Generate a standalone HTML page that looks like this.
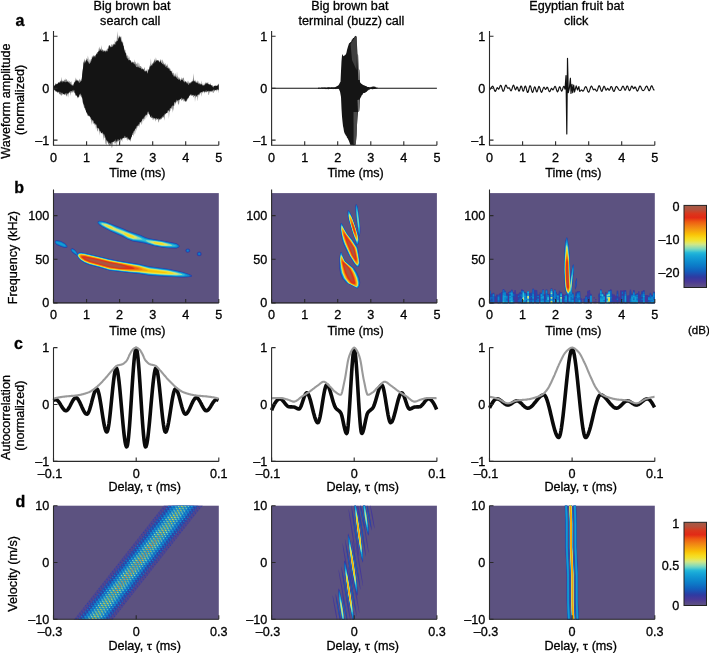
<!DOCTYPE html>
<html><head><meta charset="utf-8"><title>Bat echolocation signals</title>
<style>html,body{margin:0;padding:0;background:#fff;overflow:hidden}svg{display:block}
text{font-family:"Liberation Sans",Arial,Helvetica,sans-serif;fill:#000;stroke:#000;stroke-width:.3px}</style></head>
<body><svg style="filter:blur(0.3px)" width="709" height="653" viewBox="0 0 709 653">
<rect width="709" height="653" fill="#fff"/>
<text x="93.5" y="9.7" font-size="12.62" text-anchor="start">Big brown bat</text>
<text x="100.1" y="25.3" font-size="12.62" text-anchor="start">search call</text>
<text x="311.3" y="9.7" font-size="12.62" text-anchor="start">Big brown bat</text>
<text x="298.6" y="25.3" font-size="12.62" text-anchor="start">terminal (buzz) call</text>
<text x="529.3" y="9.7" font-size="12.62" text-anchor="start">Egyptian fruit bat</text>
<text x="563.9" y="25.3" font-size="12.62" text-anchor="start">click</text>
<text x="15.4" y="25.6" font-size="16" text-anchor="start" font-weight="bold">a</text>
<text x="14.3" y="193" font-size="16" text-anchor="start" font-weight="bold">b</text>
<text x="14" y="348.5" font-size="16" text-anchor="start" font-weight="bold">c</text>
<text x="15.4" y="506.6" font-size="16" text-anchor="start" font-weight="bold">d</text>
<text transform="translate(9.9,158.7) rotate(-90)" font-size="12.62">Waveform amplitude</text>
<text transform="translate(23.9,134.9) rotate(-90)" font-size="12.62">(normalized)</text>
<text transform="translate(16.8,304.2) rotate(-90)" font-size="12.62">Frequency (kHz)</text>
<text transform="translate(9.7,459.9) rotate(-90)" font-size="12.62">Autocorrelation</text>
<text transform="translate(23.9,450.7) rotate(-90)" font-size="12.62">(normalized)</text>
<text transform="translate(17,611.7) rotate(-90)" font-size="12.62">Velocity (m/s)</text>
<path fill="#8a8a8a" d="M53.7,85.6 54.2,85.8 54.6,85.8 55.1,84.7 55.5,82.8 56.0,84.0 56.4,84.3 56.9,83.2 57.3,83.4 57.8,84.2 58.2,81.8 58.7,83.2 59.1,82.0 59.6,81.6 60.0,82.4 60.5,81.2 60.9,81.9 61.4,76.8 61.8,80.2 62.3,81.6 62.7,80.3 63.2,81.2 63.6,81.2 64.1,78.9 64.5,80.3 65.0,80.0 65.4,80.1 65.9,78.2 66.3,79.9 66.8,78.9 67.2,80.4 67.7,81.2 68.1,82.5 68.6,79.9 69.0,82.4 69.5,80.9 69.9,81.2 70.4,82.3 70.8,82.4 71.3,81.1 71.7,84.3 72.2,84.0 72.6,85.8 73.1,83.9 73.5,84.7 74.0,81.9 74.4,83.0 74.9,80.4 75.3,77.3 75.8,80.4 76.2,80.4 76.7,78.6 77.1,79.4 77.6,81.2 78.0,81.3 78.5,80.0 78.9,82.0 79.4,78.6 79.8,79.6 80.3,81.1 80.7,79.8 81.2,79.4 81.6,79.1 82.1,75.9 82.5,71.1 83.0,68.3 83.4,62.4 83.9,61.1 84.3,58.5 84.8,60.5 85.2,61.4 85.7,60.2 86.1,59.7 86.6,57.7 87.0,59.1 87.5,59.2 87.9,55.4 88.4,58.4 88.8,62.4 89.3,62.8 89.7,58.7 90.2,61.6 90.6,59.8 91.1,59.0 91.5,59.1 92.0,56.1 92.4,55.7 92.9,57.2 93.3,55.1 93.8,55.5 94.2,56.5 94.7,55.4 95.1,55.8 95.6,55.8 96.0,54.8 96.5,52.7 96.9,53.3 97.4,51.7 97.8,52.4 98.3,51.9 98.7,49.2 99.2,46.5 99.6,48.4 100.1,49.2 100.5,48.5 101.0,49.0 101.4,44.9 101.9,49.7 102.3,49.8 102.8,49.0 103.2,50.5 103.7,50.0 104.1,51.9 104.6,51.5 105.0,51.4 105.5,50.7 105.9,49.9 106.4,50.7 106.8,49.4 107.3,48.3 107.7,49.2 108.2,46.9 108.6,45.6 109.1,46.0 109.5,45.0 110.0,45.0 110.4,46.7 110.9,45.9 111.3,45.2 111.8,43.8 112.2,44.6 112.7,45.5 113.1,43.0 113.6,46.0 114.0,43.5 114.5,44.4 114.9,39.7 115.4,41.9 115.8,42.0 116.3,40.1 116.7,41.6 117.2,30.9 117.6,35.1 118.1,39.3 118.5,38.0 119.0,35.1 119.4,36.0 119.9,36.4 120.3,36.8 120.8,38.0 121.2,36.0 121.7,40.7 122.1,40.5 122.6,42.4 123.0,41.8 123.5,45.9 123.9,47.3 124.4,48.9 124.8,50.3 125.3,49.7 125.7,53.4 126.2,53.1 126.6,56.2 127.1,55.6 127.5,54.9 128.0,58.1 128.4,58.6 128.9,55.7 129.3,57.3 129.8,60.5 130.2,59.9 130.7,60.6 131.1,61.3 131.6,62.5 132.0,60.4 132.5,61.9 132.9,62.4 133.4,62.1 133.8,62.6 134.3,59.2 134.7,62.7 135.2,61.4 135.6,62.2 136.1,64.4 136.5,63.3 137.0,64.1 137.4,62.0 137.9,65.7 138.3,66.0 138.8,62.6 139.2,63.8 139.7,66.6 140.1,66.3 140.6,66.1 141.0,65.9 141.5,68.3 141.9,66.6 142.4,68.9 142.8,68.3 143.3,68.9 143.7,69.7 144.2,68.0 144.6,66.9 145.1,70.0 145.5,71.8 146.0,69.7 146.4,71.6 146.9,69.1 147.3,72.7 147.8,68.8 148.2,68.9 148.7,69.8 149.1,68.5 149.6,65.7 150.0,65.2 150.5,63.3 150.9,58.3 151.4,65.3 151.8,64.4 152.3,63.5 152.7,63.4 153.2,61.8 153.6,61.9 154.1,60.4 154.5,58.4 155.0,60.5 155.4,60.2 155.9,57.2 156.3,59.3 156.8,60.6 157.2,60.4 157.7,61.0 158.1,61.4 158.6,60.2 159.0,60.2 159.5,62.0 159.9,61.1 160.4,59.6 160.8,59.4 161.3,59.9 161.7,63.2 162.2,61.6 162.6,59.3 163.1,61.2 163.5,64.2 164.0,61.6 164.4,65.7 164.9,65.3 165.3,64.7 165.8,62.7 166.2,64.9 166.7,66.2 167.1,65.9 167.6,63.4 168.0,66.6 168.5,67.2 168.9,68.2 169.4,67.4 169.8,69.3 170.3,68.6 170.7,71.0 171.2,70.9 171.6,71.1 172.1,70.0 172.5,73.7 173.0,73.4 173.4,73.4 173.9,72.2 174.3,74.4 174.8,75.7 175.2,75.4 175.7,72.7 176.1,75.0 176.6,77.9 177.0,71.3 177.5,77.2 177.9,75.8 178.4,78.5 178.8,77.2 179.3,77.5 179.7,78.6 180.2,80.0 180.6,79.1 181.1,79.8 181.5,77.1 182.0,79.2 182.4,77.7 182.9,79.0 183.3,77.5 183.8,77.7 184.2,80.2 184.7,81.1 185.1,81.9 185.6,80.9 186.0,81.3 186.5,82.1 186.9,82.4 187.4,80.6 187.8,83.3 188.3,80.5 188.7,82.5 189.2,84.1 189.6,83.0 190.1,82.6 190.5,83.4 191.0,82.4 191.4,81.8 191.9,81.8 192.3,82.4 192.8,79.7 193.2,78.2 193.7,73.3 194.1,80.3 194.6,81.5 195.0,79.6 195.5,80.9 195.9,80.8 196.4,82.4 196.8,81.4 197.3,81.9 197.7,80.4 198.2,80.9 198.6,82.8 199.1,82.9 199.5,82.4 200.0,84.1 200.4,83.6 200.9,83.6 201.3,80.4 201.8,84.7 202.2,85.0 202.7,83.0 203.1,85.5 203.6,84.9 204.0,83.0 204.5,84.9 204.9,83.6 205.4,83.0 205.8,82.0 206.3,83.6 206.7,82.2 207.2,82.9 207.6,82.4 208.1,82.1 208.5,83.7 209.0,85.0 209.4,84.4 209.9,84.7 210.3,82.6 210.8,85.6 211.2,85.2 211.7,85.5 212.1,85.3 212.6,85.1 213.0,86.3 213.5,85.8 213.9,86.5 214.4,85.9 214.8,85.7 215.3,85.9 215.7,84.9 216.2,85.9 216.6,85.5 217.1,84.5 217.5,84.9 218.0,85.6 218.4,83.6 218.9,83.9 218.9,93.6 218.4,90.5 218.0,90.0 217.5,90.4 217.1,90.1 216.6,90.3 216.2,91.8 215.7,90.1 215.3,90.0 214.8,92.1 214.4,90.7 213.9,91.0 213.5,93.1 213.0,93.1 212.6,91.9 212.1,91.1 211.7,91.8 211.2,92.2 210.8,91.1 210.3,92.0 209.9,92.5 209.4,91.9 209.0,94.7 208.5,94.9 208.1,91.8 207.6,91.3 207.2,91.8 206.7,92.7 206.3,92.1 205.8,92.0 205.4,91.2 204.9,94.1 204.5,91.3 204.0,92.9 203.6,91.2 203.1,91.0 202.7,92.6 202.2,93.5 201.8,91.2 201.3,96.7 200.9,94.0 200.4,92.6 200.0,93.8 199.5,95.8 199.1,93.9 198.6,94.6 198.2,96.2 197.7,101.4 197.3,96.4 196.8,96.7 196.4,96.0 195.9,97.8 195.5,96.9 195.0,102.0 194.6,95.6 194.1,96.0 193.7,97.5 193.2,96.9 192.8,95.2 192.3,95.9 191.9,96.1 191.4,95.8 191.0,95.5 190.5,94.9 190.1,95.8 189.6,95.9 189.2,96.6 188.7,97.9 188.3,98.4 187.8,98.3 187.4,100.1 186.9,100.5 186.5,101.9 186.0,100.8 185.6,101.7 185.1,99.5 184.7,100.3 184.2,99.3 183.8,99.6 183.3,101.9 182.9,99.8 182.4,99.7 182.0,100.5 181.5,100.8 181.1,100.0 180.6,98.9 180.2,99.1 179.7,99.8 179.3,102.1 178.8,105.4 178.4,103.7 177.9,103.8 177.5,99.7 177.0,100.7 176.6,102.4 176.1,102.1 175.7,105.0 175.2,103.0 174.8,102.3 174.3,106.2 173.9,105.2 173.4,110.9 173.0,108.4 172.5,112.8 172.1,107.1 171.6,106.9 171.2,108.7 170.7,108.7 170.3,110.7 169.8,111.5 169.4,111.9 168.9,119.0 168.5,111.0 168.0,110.5 167.6,113.6 167.1,111.7 166.7,113.0 166.2,113.4 165.8,114.5 165.3,114.3 164.9,114.4 164.4,120.7 164.0,118.1 163.5,116.7 163.1,116.5 162.6,118.0 162.2,118.0 161.7,117.2 161.3,118.4 160.8,118.3 160.4,117.9 159.9,118.9 159.5,118.4 159.0,121.7 158.6,122.7 158.1,120.4 157.7,118.0 157.2,118.8 156.8,119.9 156.3,119.5 155.9,119.2 155.4,121.8 155.0,119.7 154.5,118.7 154.1,117.8 153.6,120.4 153.2,118.8 152.7,120.2 152.3,116.9 151.8,118.3 151.4,118.1 150.9,117.3 150.5,117.8 150.0,115.5 149.6,114.9 149.1,113.6 148.7,114.0 148.2,113.5 147.8,113.8 147.3,115.6 146.9,118.3 146.4,115.1 146.0,115.0 145.5,116.5 145.1,119.4 144.6,118.0 144.2,119.9 143.7,121.4 143.3,118.6 142.8,119.5 142.4,120.5 141.9,125.1 141.5,123.7 141.0,120.6 140.6,121.9 140.1,122.9 139.7,128.0 139.2,123.0 138.8,126.6 138.3,125.6 137.9,125.8 137.4,127.3 137.0,128.5 136.5,130.9 136.1,126.1 135.6,128.2 135.2,134.2 134.7,128.9 134.3,134.8 133.8,132.3 133.4,136.4 132.9,134.8 132.5,135.1 132.0,134.7 131.6,136.5 131.1,138.6 130.7,142.0 130.2,140.5 129.8,140.4 129.3,139.9 128.9,139.2 128.4,139.9 128.0,139.3 127.5,139.3 127.1,141.3 126.6,138.0 126.2,138.1 125.7,137.9 125.3,137.3 124.8,138.3 124.4,137.9 123.9,139.1 123.5,137.5 123.0,138.2 122.6,137.8 122.1,142.2 121.7,139.3 121.2,139.0 120.8,140.1 120.3,142.1 119.9,143.2 119.4,140.2 119.0,141.1 118.5,141.6 118.1,141.0 117.6,141.6 117.2,142.4 116.7,146.7 116.3,141.5 115.8,143.6 115.4,143.7 114.9,140.5 114.5,143.0 114.0,144.1 113.6,140.9 113.1,142.3 112.7,143.9 112.2,147.3 111.8,148.2 111.3,144.9 110.9,144.2 110.4,145.6 110.0,146.2 109.5,145.5 109.1,145.2 108.6,144.5 108.2,143.3 107.7,143.0 107.3,141.0 106.8,140.9 106.4,145.3 105.9,144.2 105.5,143.5 105.0,138.1 104.6,138.0 104.1,135.7 103.7,140.8 103.2,135.7 102.8,134.4 102.3,133.3 101.9,133.6 101.4,132.7 101.0,133.6 100.5,131.9 100.1,130.8 99.6,131.8 99.2,135.7 98.7,128.1 98.3,128.6 97.8,131.3 97.4,131.4 96.9,128.6 96.5,126.5 96.0,129.9 95.6,125.0 95.1,125.0 94.7,125.6 94.2,123.1 93.8,123.2 93.3,124.2 92.9,121.4 92.4,120.7 92.0,125.1 91.5,122.7 91.1,120.4 90.6,119.3 90.2,117.3 89.7,117.0 89.3,115.7 88.8,115.6 88.4,116.4 87.9,115.6 87.5,116.0 87.0,113.3 86.6,113.4 86.1,110.9 85.7,109.5 85.2,109.9 84.8,107.9 84.3,108.6 83.9,106.8 83.4,104.9 83.0,103.3 82.5,102.0 82.1,98.1 81.6,96.7 81.2,98.1 80.7,95.6 80.3,95.7 79.8,94.7 79.4,96.3 78.9,97.6 78.5,96.4 78.0,98.2 77.6,98.3 77.1,96.0 76.7,94.6 76.2,96.5 75.8,95.2 75.3,95.9 74.9,93.0 74.4,93.4 74.0,91.4 73.5,91.5 73.1,92.8 72.6,92.3 72.2,92.3 71.7,92.8 71.3,91.9 70.8,93.0 70.4,96.1 69.9,91.5 69.5,92.4 69.0,92.8 68.6,93.6 68.1,97.4 67.7,95.6 67.2,93.6 66.8,96.0 66.3,96.5 65.9,95.3 65.4,93.7 65.0,95.3 64.5,94.8 64.1,93.6 63.6,94.5 63.2,93.2 62.7,94.5 62.3,94.4 61.8,94.9 61.4,95.8 60.9,95.4 60.5,94.2 60.0,94.7 59.6,93.9 59.1,94.1 58.7,92.5 58.2,91.9 57.8,93.3 57.3,91.2 56.9,91.4 56.4,91.1 56.0,90.9 55.5,90.7 55.1,91.7 54.6,90.3 54.2,90.3 53.7,89.6Z"/>
<path fill="#141414" d="M53.7,87.2 54.2,85.9 54.7,85.4 55.2,84.0 55.7,84.9 56.2,84.4 56.7,84.0 57.2,84.0 57.7,83.8 58.2,82.7 58.7,82.4 59.2,82.4 59.7,82.9 60.2,82.5 60.7,80.8 61.2,80.7 61.7,82.1 62.2,82.8 62.7,81.5 63.2,80.9 63.7,82.3 64.2,81.2 64.7,82.0 65.2,82.6 65.7,81.8 66.2,81.4 66.7,82.0 67.2,81.3 67.7,82.0 68.2,82.1 68.7,82.8 69.2,83.0 69.7,83.5 70.2,83.8 70.7,84.4 71.2,84.7 71.7,85.2 72.2,86.0 72.7,85.0 73.2,86.1 73.7,84.4 74.2,82.8 74.7,82.3 75.2,81.5 75.7,81.3 76.2,79.8 76.7,81.1 77.2,81.2 77.7,80.0 78.2,80.7 78.7,82.3 79.2,82.7 79.7,82.8 80.2,82.0 80.7,81.5 81.2,80.9 81.7,80.6 82.2,74.5 82.7,70.6 83.2,66.5 83.7,62.0 84.2,63.8 84.7,61.6 85.2,61.6 85.7,62.9 86.2,60.0 86.7,59.7 87.2,62.0 87.7,60.6 88.2,61.7 88.7,63.2 89.2,63.8 89.7,63.9 90.2,62.7 90.7,62.4 91.2,61.1 91.7,59.8 92.2,57.8 92.7,57.4 93.2,56.0 93.7,57.8 94.2,55.4 94.7,57.2 95.2,57.6 95.7,54.9 96.2,54.6 96.7,54.0 97.2,54.3 97.7,52.2 98.2,52.0 98.7,50.9 99.2,50.4 99.7,51.1 100.2,49.4 100.7,50.4 101.2,50.6 101.7,51.3 102.2,49.7 102.7,51.7 103.2,51.3 103.7,51.8 104.2,51.4 104.7,50.2 105.2,51.1 105.7,52.5 106.2,51.6 106.7,50.7 107.2,51.4 107.7,50.9 108.2,48.3 108.7,49.0 109.2,45.6 109.7,45.4 110.2,47.7 110.7,46.6 111.2,47.2 111.7,47.0 112.2,46.4 112.7,46.7 113.2,45.8 113.7,43.9 114.2,44.8 114.7,44.3 115.2,45.1 115.7,42.2 116.2,42.5 116.7,41.3 117.2,40.7 117.7,41.3 118.2,39.4 118.7,37.8 119.2,37.5 119.7,37.1 120.2,36.5 120.7,38.4 121.2,41.2 121.7,41.9 122.2,42.5 122.7,43.6 123.2,45.6 123.7,46.3 124.2,50.0 124.7,51.2 125.2,52.6 125.7,53.0 126.2,55.0 126.7,57.5 127.2,58.6 127.7,58.5 128.2,59.7 128.7,60.5 129.2,59.7 129.7,60.3 130.2,60.5 130.7,60.6 131.2,62.5 131.7,62.7 132.2,62.9 132.7,62.1 133.2,62.6 133.7,63.7 134.2,63.8 134.7,64.6 135.2,64.2 135.7,65.7 136.2,66.9 136.7,67.1 137.2,67.4 137.7,66.5 138.2,67.6 138.7,66.9 139.2,68.2 139.7,67.5 140.2,67.7 140.7,67.9 141.2,69.2 141.7,69.2 142.2,69.4 142.7,68.6 143.2,70.0 143.7,69.0 144.2,71.7 144.7,70.8 145.2,71.4 145.7,71.6 146.2,70.7 146.7,71.3 147.2,72.8 147.7,73.8 148.2,70.7 148.7,70.0 149.2,69.5 149.7,67.2 150.2,66.1 150.7,66.4 151.2,66.0 151.7,65.0 152.2,65.8 152.7,63.7 153.2,63.3 153.7,63.6 154.2,63.3 154.7,60.6 155.2,61.5 155.7,62.6 156.2,60.5 156.7,60.8 157.2,60.4 157.7,60.2 158.2,60.3 158.7,61.3 159.2,62.1 159.7,62.5 160.2,61.8 160.7,60.7 161.2,62.8 161.7,63.0 162.2,64.1 162.7,64.2 163.2,63.3 163.7,65.4 164.2,63.8 164.7,65.2 165.2,66.4 165.7,66.7 166.2,68.0 166.7,65.2 167.2,67.7 167.7,68.3 168.2,67.9 168.7,69.0 169.2,68.4 169.7,70.5 170.2,71.1 170.7,70.5 171.2,71.5 171.7,72.6 172.2,72.9 172.7,74.9 173.2,74.9 173.7,76.4 174.2,76.7 174.7,76.3 175.2,76.6 175.7,76.5 176.2,77.2 176.7,77.7 177.2,79.1 177.7,78.6 178.2,79.5 178.7,79.7 179.2,79.3 179.7,79.6 180.2,81.0 180.7,81.2 181.2,79.4 181.7,80.0 182.2,79.9 182.7,80.1 183.2,81.6 183.7,81.2 184.2,82.0 184.7,82.7 185.2,81.3 185.7,81.8 186.2,82.3 186.7,83.4 187.2,82.9 187.7,83.8 188.2,84.5 188.7,84.9 189.2,84.1 189.7,82.8 190.2,82.0 190.7,83.7 191.2,82.9 191.7,81.5 192.2,81.6 192.7,81.4 193.2,80.1 193.7,81.6 194.2,81.0 194.7,81.6 195.2,82.6 195.7,82.1 196.2,82.8 196.7,82.9 197.2,82.8 197.7,83.0 198.2,84.6 198.7,83.3 199.2,84.8 199.7,83.4 200.2,84.6 200.7,84.6 201.2,84.4 201.7,83.7 202.2,86.0 202.7,84.9 203.2,85.3 203.7,85.8 204.2,85.4 204.7,85.1 205.2,84.5 205.7,83.5 206.2,84.2 206.7,82.9 207.2,83.3 207.7,83.8 208.2,84.4 208.7,84.1 209.2,84.3 209.7,84.7 210.2,84.3 210.7,85.1 211.2,85.3 211.7,85.6 212.2,86.6 212.7,86.7 213.2,87.4 213.7,87.2 214.2,85.5 214.7,86.3 215.2,85.6 215.7,86.2 216.2,85.9 216.7,86.1 217.2,85.7 217.7,85.8 218.2,85.1 218.7,83.9 218.7,89.2 218.2,90.1 217.7,89.2 217.2,89.1 216.7,90.0 216.2,89.5 215.7,89.9 215.2,90.0 214.7,89.6 214.2,90.8 213.7,89.5 213.2,89.7 212.7,90.8 212.2,90.6 211.7,91.3 211.2,90.4 210.7,91.5 210.2,90.8 209.7,91.3 209.2,90.8 208.7,91.2 208.2,90.6 207.7,91.6 207.2,90.9 206.7,92.1 206.2,90.1 205.7,90.7 205.2,92.0 204.7,92.5 204.2,90.9 203.7,91.7 203.2,91.0 202.7,91.8 202.2,91.7 201.7,92.0 201.2,92.2 200.7,92.1 200.2,93.0 199.7,92.8 199.2,94.4 198.7,94.3 198.2,94.8 197.7,95.3 197.2,94.4 196.7,95.8 196.2,96.5 195.7,95.7 195.2,94.5 194.7,95.5 194.2,95.9 193.7,94.8 193.2,95.1 192.7,94.8 192.2,95.2 191.7,95.0 191.2,94.2 190.7,94.0 190.2,95.1 189.7,95.6 189.2,95.5 188.7,97.6 188.2,97.5 187.7,98.5 187.2,98.8 186.7,99.8 186.2,101.0 185.7,102.0 185.2,100.6 184.7,101.5 184.2,98.8 183.7,98.7 183.2,98.7 182.7,98.2 182.2,99.3 181.7,98.2 181.2,97.6 180.7,99.3 180.2,98.9 179.7,99.4 179.2,99.9 178.7,99.8 178.2,100.4 177.7,99.9 177.2,101.5 176.7,100.5 176.2,99.6 175.7,102.2 175.2,102.5 174.7,101.7 174.2,102.6 173.7,105.9 173.2,105.4 172.7,105.4 172.2,105.7 171.7,106.1 171.2,108.8 170.7,108.1 170.2,108.0 169.7,108.7 169.2,111.4 168.7,110.2 168.2,110.2 167.7,110.4 167.2,113.0 166.7,113.0 166.2,112.9 165.7,113.9 165.2,113.3 164.7,113.7 164.2,115.4 163.7,115.1 163.2,117.5 162.7,116.8 162.2,116.1 161.7,117.5 161.2,119.4 160.7,118.0 160.2,120.1 159.7,118.4 159.2,119.9 158.7,119.2 158.2,117.7 157.7,119.7 157.2,118.4 156.7,117.9 156.2,118.3 155.7,118.5 155.2,118.8 154.7,118.3 154.2,118.0 153.7,117.5 153.2,118.2 152.7,118.0 152.2,116.9 151.7,115.3 151.2,117.8 150.7,116.8 150.2,116.5 149.7,114.7 149.2,114.1 148.7,112.0 148.2,111.5 147.7,111.7 147.2,113.1 146.7,114.8 146.2,114.9 145.7,116.1 145.2,114.2 144.7,117.3 144.2,116.2 143.7,118.0 143.2,118.8 142.7,119.3 142.2,118.3 141.7,121.4 141.2,120.9 140.7,122.6 140.2,122.3 139.7,121.9 139.2,124.4 138.7,123.8 138.2,125.8 137.7,125.3 137.2,126.1 136.7,126.0 136.2,128.1 135.7,128.6 135.2,128.9 134.7,129.9 134.2,131.2 133.7,131.1 133.2,132.5 132.7,133.0 132.2,134.4 131.7,136.7 131.2,137.2 130.7,139.0 130.2,139.4 129.7,139.3 129.2,140.1 128.7,138.5 128.2,138.6 127.7,138.2 127.2,136.8 126.7,137.2 126.2,137.3 125.7,138.0 125.2,135.9 124.7,135.7 124.2,136.9 123.7,137.7 123.2,138.1 122.7,138.2 122.2,138.4 121.7,140.7 121.2,138.6 120.7,138.7 120.2,138.6 119.7,140.4 119.2,140.4 118.7,139.0 118.2,140.0 117.7,139.1 117.2,141.3 116.7,140.5 116.2,142.0 115.7,141.3 115.2,139.1 114.7,141.2 114.2,140.7 113.7,142.1 113.2,141.6 112.7,142.0 112.2,142.0 111.7,142.0 111.2,143.6 110.7,143.6 110.2,143.6 109.7,142.5 109.2,143.3 108.7,143.7 108.2,141.6 107.7,140.4 107.2,142.2 106.7,139.9 106.2,139.8 105.7,138.0 105.2,137.1 104.7,135.2 104.2,134.3 103.7,134.4 103.2,133.5 102.7,133.0 102.2,131.7 101.7,133.2 101.2,133.1 100.7,131.8 100.2,130.7 99.7,130.8 99.2,128.9 98.7,128.0 98.2,128.6 97.7,127.8 97.2,128.3 96.7,123.7 96.2,125.7 95.7,123.6 95.2,124.1 94.7,123.3 94.2,123.6 93.7,121.3 93.2,120.6 92.7,120.1 92.2,120.2 91.7,119.2 91.2,119.0 90.7,117.0 90.2,117.4 89.7,116.0 89.2,115.8 88.7,115.6 88.2,115.4 87.7,114.2 87.2,113.6 86.7,112.3 86.2,112.2 85.7,110.2 85.2,108.3 84.7,107.5 84.2,105.3 83.7,104.2 83.2,103.3 82.7,99.5 82.2,98.0 81.7,95.9 81.2,95.0 80.7,93.2 80.2,94.6 79.7,94.1 79.2,94.9 78.7,96.8 78.2,97.4 77.7,97.2 77.2,96.5 76.7,95.0 76.2,96.1 75.7,94.5 75.2,93.3 74.7,92.5 74.2,90.1 73.7,89.8 73.2,91.3 72.7,90.6 72.2,90.4 71.7,90.9 71.2,91.1 70.7,91.3 70.2,91.3 69.7,92.9 69.2,91.3 68.7,93.0 68.2,93.6 67.7,93.7 67.2,93.2 66.7,92.8 66.2,95.2 65.7,93.6 65.2,93.0 64.7,94.1 64.2,94.8 63.7,93.7 63.2,94.5 62.7,92.4 62.2,93.2 61.7,93.5 61.2,92.6 60.7,91.8 60.2,94.0 59.7,93.0 59.2,91.6 58.7,92.6 58.2,91.3 57.7,92.7 57.2,91.4 56.7,91.9 56.2,90.9 55.7,91.5 55.2,89.9 54.7,89.9 54.2,89.4 53.7,88.9Z"/>
<path d="M53.5,31 V145.3 H218.8" fill="none" stroke="#2a2a2a" stroke-width="1.1"/>
<path d="M53.5,145.3v-4M86.6,145.3v-4M119.6,145.3v-4M152.7,145.3v-4M185.7,145.3v-4M218.8,145.3v-4M53.5,140.1h4M53.5,88.2h4M53.5,36.2h4" fill="none" stroke="#2a2a2a" stroke-width="1.1"/>
<text x="53.5" y="161.6" font-size="12.62" text-anchor="middle">0</text>
<text x="86.6" y="161.6" font-size="12.62" text-anchor="middle">1</text>
<text x="119.6" y="161.6" font-size="12.62" text-anchor="middle">2</text>
<text x="152.7" y="161.6" font-size="12.62" text-anchor="middle">3</text>
<text x="185.7" y="161.6" font-size="12.62" text-anchor="middle">4</text>
<text x="218.8" y="161.6" font-size="12.62" text-anchor="middle">5</text>
<text x="49.2" y="144.5" font-size="12.62" text-anchor="end">–1</text>
<text x="49.2" y="92.6" font-size="12.62" text-anchor="end">0</text>
<text x="49.2" y="40.6" font-size="12.62" text-anchor="end">1</text>
<text x="109.3" y="176.5" font-size="12.62" text-anchor="start">Time (ms)</text>
<path d="M271.6,88.2H436.9" stroke="#111" stroke-width="1.1" fill="none"/>
<path fill="#151515" d="M318.0,87.8 318.5,87.6 319.0,88.0 319.5,87.6 320.0,87.7 320.5,87.9 321.0,87.5 321.5,87.5 322.0,87.6 322.5,87.5 323.0,87.4 323.5,87.5 324.0,87.5 324.5,87.6 325.0,87.3 325.5,87.4 326.0,87.7 326.5,87.8 327.0,87.2 327.5,87.5 328.0,87.3 328.5,87.3 329.0,87.3 329.5,87.3 330.0,87.5 330.5,87.5 331.0,87.3 331.5,87.3 332.0,87.3 332.5,87.3 333.0,87.4 333.5,87.2 334.0,87.2 334.5,87.2 335.0,87.2 335.5,87.0 336.0,86.7 336.5,86.6 337.0,86.1 337.5,86.1 338.0,85.5 338.5,85.2 339.0,84.6 339.5,83.6 340.0,82.6 340.5,81.8 341.0,71.1 341.5,61.2 342.0,55.6 342.5,54.1 343.0,55.6 343.5,56.3 344.0,56.0 344.5,55.6 345.0,55.0 345.5,54.8 346.0,53.9 346.5,52.4 347.0,50.0 347.5,48.2 348.0,46.4 348.5,45.0 349.0,43.5 349.5,42.9 350.0,42.7 350.5,42.1 351.0,41.9 351.5,40.8 352.0,39.3 352.5,39.4 353.0,38.0 353.5,38.1 354.0,37.8 354.5,36.8 355.0,36.3 355.5,35.8 356.0,36.3 356.5,36.2 357.0,45.0 357.5,54.2 358.0,55.3 358.5,68.7 359.0,69.3 359.5,72.8 360.0,82.1 360.5,82.9 361.0,83.3 361.5,83.9 362.0,84.1 362.5,84.6 363.0,85.2 363.5,85.0 364.0,85.3 364.5,85.4 365.0,85.7 365.5,86.1 366.0,86.1 366.5,86.3 367.0,86.7 367.5,86.9 368.0,87.1 368.5,87.1 369.0,86.9 369.5,87.3 370.0,87.4 370.5,87.3 371.0,86.8 371.5,87.2 372.0,86.4 372.5,86.7 373.0,86.6 373.5,86.5 374.0,86.6 374.5,86.7 375.0,86.5 375.5,86.9 376.0,87.4 376.5,87.8 377.0,87.3 377.5,87.7 377.5,88.3 377.0,88.4 376.5,88.8 376.0,88.5 375.5,88.8 375.0,88.9 374.5,89.1 374.0,89.1 373.5,89.1 373.0,89.2 372.5,89.3 372.0,89.3 371.5,89.0 371.0,88.9 370.5,89.1 370.0,89.2 369.5,89.7 369.0,89.6 368.5,89.9 368.0,90.4 367.5,90.7 367.0,91.2 366.5,91.9 366.0,91.9 365.5,92.4 365.0,92.7 364.5,93.0 364.0,93.0 363.5,93.0 363.0,93.6 362.5,94.8 362.0,95.0 361.5,95.8 361.0,97.0 360.5,97.7 360.0,98.7 359.5,107.6 359.0,111.1 358.5,111.3 358.0,112.0 357.5,117.7 357.0,124.6 356.5,135.2 356.0,141.3 355.5,145.2 355.0,144.8 354.5,145.1 354.0,145.2 353.5,145.3 353.0,145.1 352.5,144.9 352.0,144.7 351.5,144.9 351.0,145.1 350.5,145.0 350.0,144.0 349.5,142.6 349.0,141.3 348.5,139.9 348.0,139.3 347.5,138.0 347.0,137.7 346.5,136.0 346.0,135.8 345.5,134.8 345.0,133.9 344.5,132.9 344.0,131.5 343.5,128.3 343.0,126.0 342.5,121.5 342.0,116.5 341.5,108.4 341.0,97.1 340.5,94.2 340.0,91.4 339.5,90.4 339.0,89.3 338.5,88.7 338.0,88.6 337.5,88.7 337.0,88.5 336.5,88.8 336.0,89.2 335.5,88.9 335.0,88.9 334.5,89.0 334.0,88.8 333.5,89.0 333.0,89.2 332.5,88.8 332.0,88.9 331.5,89.0 331.0,89.0 330.5,89.1 330.0,88.7 329.5,88.9 329.0,89.1 328.5,89.2 328.0,89.2 327.5,89.1 327.0,89.0 326.5,89.0 326.0,89.2 325.5,89.1 325.0,89.0 324.5,88.7 324.0,88.8 323.5,88.7 323.0,88.8 322.5,88.9 322.0,88.5 321.5,88.5 321.0,88.7 320.5,88.7 320.0,88.5 319.5,88.5 319.0,88.7 318.5,88.8 318.0,88.9Z"/>
<path fill="#4a4a4a" d="M350.5,44 L355.5,36.5 L356.8,37 L357,54 L356.5,70 L352,60 Z" opacity="0.8"/>
<path fill="#7a7a7a" d="M357.3,55 L358.2,55 L358.6,69 L359.6,70 L359.7,80 L358.3,80 Z"/>
<path fill="#707070" d="M357.5,100 L359.6,99.5 L359.4,111 L358,112 Z"/>
<path fill="#505050" d="M353.5,112 L357.5,112 L356.7,134 L355.7,144.5 L353.6,144.5 Z" opacity="0.9"/>
<path d="M271.6,31 V145.3 H436.9" fill="none" stroke="#2a2a2a" stroke-width="1.1"/>
<path d="M271.6,145.3v-4M304.7,145.3v-4M337.7,145.3v-4M370.8,145.3v-4M403.8,145.3v-4M436.9,145.3v-4M271.6,140.1h4M271.6,88.2h4M271.6,36.2h4" fill="none" stroke="#2a2a2a" stroke-width="1.1"/>
<text x="271.6" y="161.6" font-size="12.62" text-anchor="middle">0</text>
<text x="304.7" y="161.6" font-size="12.62" text-anchor="middle">1</text>
<text x="337.7" y="161.6" font-size="12.62" text-anchor="middle">2</text>
<text x="370.8" y="161.6" font-size="12.62" text-anchor="middle">3</text>
<text x="403.8" y="161.6" font-size="12.62" text-anchor="middle">4</text>
<text x="436.9" y="161.6" font-size="12.62" text-anchor="middle">5</text>
<text x="267.3" y="144.5" font-size="12.62" text-anchor="end">–1</text>
<text x="267.3" y="92.6" font-size="12.62" text-anchor="end">0</text>
<text x="267.3" y="40.6" font-size="12.62" text-anchor="end">1</text>
<text x="327.4" y="176.5" font-size="12.62" text-anchor="start">Time (ms)</text>
<path fill="none" stroke="#111" stroke-width="1.15" stroke-linejoin="round" d="M489.5,90.1 490.0,89.4 490.5,88.8 491.0,88.2 491.5,87.4 492.0,86.6 492.5,86.2 493.0,86.4 493.5,87.5 494.0,88.9 494.5,90.4 495.0,91.3 495.5,91.3 496.0,90.4 496.5,89.0 497.0,87.9 497.5,87.7 498.0,88.4 498.5,89.1 499.0,88.9 499.5,87.7 500.0,86.3 500.5,85.4 501.0,85.5 501.5,86.6 502.0,88.3 502.5,90.0 503.0,91.2 503.5,91.2 504.0,90.2 504.5,88.5 505.0,86.7 505.5,85.4 506.0,85.1 506.5,85.8 507.0,87.0 507.5,88.0 508.0,88.4 508.5,88.0 509.0,87.7 509.5,88.1 510.0,89.2 510.5,90.4 511.0,90.8 511.5,90.3 512.0,88.9 512.5,87.1 513.0,85.7 513.5,85.2 514.0,85.9 514.5,87.5 515.0,89.1 515.5,89.8 516.0,89.2 516.5,87.8 517.0,86.9 517.5,87.3 518.0,88.8 518.5,90.4 519.0,91.2 519.5,90.6 520.0,89.0 520.5,87.1 521.0,86.0 521.5,86.2 522.0,87.7 522.5,89.7 523.0,91.1 523.5,91.1 524.0,89.7 524.5,87.7 525.0,86.2 525.5,86.0 526.0,87.2 526.5,89.2 527.0,91.3 527.5,92.4 528.0,92.2 528.5,90.8 529.0,88.6 529.5,86.7 530.0,85.7 530.5,86.1 531.0,87.7 531.5,89.8 532.0,91.7 532.5,92.5 533.0,91.9 533.5,90.2 534.0,88.2 534.5,86.9 535.0,87.0 535.5,88.3 536.0,90.3 536.5,91.7 537.0,91.9 537.5,90.7 538.0,88.8 538.5,87.1 539.0,86.4 539.5,86.9 540.0,88.4 540.5,90.2 541.0,91.7 541.5,92.3 542.0,91.8 542.5,90.4 543.0,88.9 543.5,87.6 544.0,87.2 544.5,87.8 545.0,88.8 545.5,89.5 546.0,89.1 546.5,88.1 547.0,87.2 547.5,87.3 548.0,88.4 548.5,89.9 549.0,91.2 549.5,91.7 550.0,91.4 550.5,90.2 551.0,89.0 551.5,88.3 552.0,88.7 552.5,89.6 553.0,89.9 553.5,89.3 554.0,88.1 554.5,86.9 555.0,86.3 555.5,86.8 556.0,88.1 556.5,89.8 557.0,91.2 557.5,91.8 558.0,91.2 558.5,89.7 559.0,87.9 559.5,86.8 560.0,86.9 560.5,88.2 561.0,90.0 561.5,91.1 562.0,90.9 562.5,89.6 563.0,87.8 563.5,86.6 564.0,86.4 564.5,87.5 565.0,89.2 566.0,75.5 566.8,134.0 567.5,58.3 568.3,92.7 569.3,88.6 570.4,78.2 571.0,93.4 572.0,84.4 572.7,92.7 573.7,85.1 574.5,92.0 576.2,85.8 577.5,90.0 578.9,86.5 579.6,91.3 580.5,91.0 581.0,90.2 581.5,89.9 582.0,90.3 582.5,90.9 583.0,91.1 583.5,90.7 584.0,89.7 584.5,88.4 585.0,87.3 585.5,86.7 586.0,86.8 586.5,87.6 587.0,88.9 587.5,90.5 588.0,91.7 588.5,92.2 589.0,91.9 589.5,90.7 590.0,89.1 590.5,87.5 591.0,86.4 591.5,86.1 592.0,86.7 592.5,87.9 593.0,89.1 593.5,89.8 594.0,89.7 594.5,89.2 595.0,89.1 595.5,89.6 596.0,90.5 596.5,91.2 597.0,91.0 597.5,89.9 598.0,88.3 598.5,86.7 599.0,85.7 599.5,85.8 600.0,86.9 600.5,88.6 601.0,90.2 601.5,91.3 602.0,91.2 602.5,90.1 603.0,88.5 603.5,87.0 604.0,86.2 604.5,86.6 605.0,87.7 605.5,89.2 606.0,90.1 606.5,90.0 607.0,89.1 607.5,88.3 608.0,88.5 608.5,89.5 609.0,90.3 609.5,90.1 610.0,89.0 610.5,87.6 611.0,86.6 611.5,86.5 612.0,87.3 612.5,88.8 613.0,90.3 613.5,91.3 614.0,91.4 614.5,90.6 615.0,89.2 615.5,87.7 616.0,86.7 616.5,86.4 617.0,86.7 617.5,87.5 618.0,88.4 618.5,89.3 619.0,89.9 619.5,90.3 620.0,90.5 620.5,90.4 621.0,89.9 621.5,88.8 622.0,87.5 622.5,86.5 623.0,86.1 623.5,86.6 624.0,87.9 624.5,89.3 625.0,90.2 625.5,89.9 626.0,88.7 626.5,87.1 627.0,86.1 627.5,86.1 628.0,87.1 628.5,88.7 629.0,90.1 629.5,90.7 630.0,90.2 630.5,89.0 631.0,87.5 631.5,86.3 632.0,86.1 632.5,86.8 633.0,87.9 633.5,88.7 634.0,88.5 634.5,87.6 635.0,86.9 635.5,87.2 636.0,88.3 636.5,89.7 637.0,90.8 637.5,91.1 638.0,90.4 638.5,89.2 639.0,87.7 639.5,86.5 640.0,86.0 640.5,86.3 641.0,87.3 641.5,88.5 642.0,89.6 642.5,90.3 643.0,90.6 643.5,90.5 644.0,90.1 644.5,89.5 645.0,88.6 645.5,87.6 646.0,86.6 646.5,86.1 647.0,86.2 647.5,87.2 648.0,88.6 648.5,89.9 649.0,90.7 649.5,90.6 650.0,89.5 650.5,88.0 651.0,86.5 651.5,85.8 652.0,85.9 652.5,86.9 653.0,88.3 653.5,89.5 654.0,90.0 654.5,89.9"/>
<path d="M489.5,31 V145.3 H654.8" fill="none" stroke="#2a2a2a" stroke-width="1.1"/>
<path d="M489.5,145.3v-4M522.6,145.3v-4M555.6,145.3v-4M588.7,145.3v-4M621.7,145.3v-4M654.8,145.3v-4M489.5,140.1h4M489.5,88.2h4M489.5,36.2h4" fill="none" stroke="#2a2a2a" stroke-width="1.1"/>
<text x="489.5" y="161.6" font-size="12.62" text-anchor="middle">0</text>
<text x="522.6" y="161.6" font-size="12.62" text-anchor="middle">1</text>
<text x="555.6" y="161.6" font-size="12.62" text-anchor="middle">2</text>
<text x="588.7" y="161.6" font-size="12.62" text-anchor="middle">3</text>
<text x="621.7" y="161.6" font-size="12.62" text-anchor="middle">4</text>
<text x="654.8" y="161.6" font-size="12.62" text-anchor="middle">5</text>
<text x="485.2" y="144.5" font-size="12.62" text-anchor="end">–1</text>
<text x="485.2" y="92.6" font-size="12.62" text-anchor="end">0</text>
<text x="485.2" y="40.6" font-size="12.62" text-anchor="end">1</text>
<text x="545.3" y="176.5" font-size="12.62" text-anchor="start">Time (ms)</text>
<rect x="53.5" y="193.1" width="165.3" height="110.2" fill="#5c5280"/>
<path fill="#443899" d="M99.3,220.7l2.9,.2 4.3,1 16.3,6.4 5.4,2.4 12.6,4.2 4.3,2.2 3.7,1.2 13,2.1 11,2.1 3.7,.8 2,1.3 1,1.1 0,1-1,.9-2,.9-8.4-.2-5.1-.6-7.9-1.4-10.3-2.8-12-2.1-5-1.8-5-2.7-11.6-5.2-9-4.7-2.7-1.8-1.7-2 0-1.7zM56.5,239.9l4.3,1 4,2.1 2.4,2.6 0,1.9-2.4,.5-4-1.2-4.3-1.9-1.3-1.9-.1-.6 .1-1.3zM72.5,248.1l2.3,1.5 2,2.5 1,1.7 1-1.3 .4-.2 2,0 3.6,.6 24.7,5.9 10,2 19.6,3.1 10,2.3 18.7,2.5 8,1.6 7.3,1.8 5.4,1.6 3.3,1.6 0,1.5-3.3,.4-5.4,.2-7.3-.2-22-1.2-5-.4-9.7-1.6-9.9-1-19.7-2.4-10-2.9-9.7-2.5-5-2-4-2.6-2-2.1-1.6-2.9-.4,0-1.6-.8-2.7-2.1-1.7-2.7 0-1zM186.7,248.7l.8-.2 1,.1 1.3,.8 .4,.6 0,.7-.1,.7-.6,.7-1,.5-1,.1-1-.3-.7-.6-.4-.8 0-1 .4-.6zM198.6,251.7l.9-.1 .6,.2 .9,.6 .5,.6 .1,1-.1,.7-.4,.7-1,.6-1,.2-1-.2-.8-.6-.4-.7-.1-1 .3-1 .7-.7z"/>
<path fill="#2347ab" d="M99.5,220.9l2.3,.2 4.7,1 9.7,4 6.6,2.5 5.4,2.4 12.6,4.3 4.3,2.1 3.7,1.1 13,2.1 10.9,2.1 3.8,.9 2,1.3 1,1 0,.5-1,1-2,.8-8.4-.2-6.3-.7-6.9-1.3-10.1-2.8-12-2.1-4.9-1.7-5.1-2.9-11.6-5.1-9-4.6-2.7-1.9-1.7-1.9 0-1.3zM56.5,240.3l4.3,1 4,2.1 2.4,2.5 0,1.4-2.4,.4-4-1.3-4.3-1.9-1.3-1.7-.1-.4 .1-1.1zM72.5,248.4l2.3,1.5 2,2.5 1,1.6 1-1.3 .4-.1 2-.1 3.4,.5 24.9,6 9.7,2 19.9,3.1 10,2.4 19,2.5 8,1.7 7.4,1.7 5.7,1.9 2.6,1.3 0,.9-3.3,.5-5.4,.2-7.3-.2-18.4-1-8.3-.6-10-1.7-9.9-.9-19.7-2.4-10-2.9-9.7-2.5-5-2.1-4-2.5-2-2.1-1.3-2.1-.3-.9-.4,0-1.6-.8-2.7-2.1-1.7-2.3 0-.9zM186.9,249l1.2-.1 .7,.2 .7,.5 .3,1.1-.2,.7-.5,.5-.6,.4-1,0-.7-.2-.7-.5-.3-.6 0-.7 .3-.7zM198.8,252l.8,0 .8,.4 .8,1 0,.6-.1,.7-.6,.7-.7,.3-1,.1-.7-.3-.5-.5-.4-.6 0-.7 .3-.8 .5-.5z"/>
<path fill="#1069c0" d="M99.5,221.2l2.3,.2 4.7,1 9.7,4 6.6,2.5 5.4,2.4 12.6,4.3 4.3,2.2 4,1.1 12.7,2 14.7,3 2,1.3 .6,.8 0,.4-.6,.6-2,.9-8.4-.2-6.3-.6-7-1.3-10-3-12-2.1-4.9-1.7-5.1-2.8-11.8-5.1-8.8-4.6-2.7-1.9-1.7-1.9 0-.7zM56.4,240.7l4.4,.9 4,2.1 2.4,2.6 0,.5-2.4,.5-4-1.3-4.3-1.8-1.3-1.8 0-.8zM72.5,248.8l2.3,1.5 2,2.4 .7,1.4 .3,.1 1-1.3 .4-.1 2-.1 3.6,.6 24.7,5.9 9.7,2 19.9,3.2 10,2.4 19.1,2.5 7.9,1.6 7.4,1.8 5,1.6 1.9,1 .7,.7-.8,.3-1.8,.4-5.4,.2-7.3-.2-18-1-8.7-.6-10-1.7-9.9-.9-19.7-2.3-10-3-9.7-2.5-5-2-4.1-2.7-1.9-1.9-1.3-2-.3-1.1-.4,0-1.6-.9-2.7-2.1-1.7-2.3 .3-.3zM187.2,249.4l1.2,0 .7,.5 .2,.8-.5,.9-.7,.3-.6,0-1-.5-.2-1 .4-.7zM198.4,252.7l1.1-.2 .9,.5 .3,1-.5,1-1.1,.3-.6-.1-.6-.5-.2-1 .3-.7z"/>
<path fill="#0d85cc" d="M99.5,221.6l2.7,.1 4.3,1 4.3,1.7 5.4,2.4 6.6,2.5 5.4,2.4 12.6,4.4 4.3,2 4,1.1 12.7,1.9 13.7,2.9 1,.3 1.5,1.1 .5,.4 0,.6-2,1.1-8.4-.1-6.3-.6-7-1.3-10-3-4-.9-8-1.2-4.9-1.7-5.1-2.9-11.8-5.1-8.8-4.5-2.7-2-1-1.1-.2-.7zM56.5,241.1l4.7,1.1 3.6,2 1.3,1.5 .2,.7-.6,.3-.9,.2-3.7-1.2-4.6-2-1.1-1.7zM72.5,249.2l2.7,1.8 1.6,2.2 .4,.7 0,.5-.4,.1-1.6-.8-2.7-2.1-1-1.6 .1-.3zM187.2,250l.6-.2 .6,.2 .2,.4-.1,.6-.7,.4-.7-.3-.2-.4zM81.2,252.9l3.6,.6 24.7,6 10,2 19.6,3.2 10,2.4 18.7,2.5 7.3,1.4 8.5,2 4.6,1.7 1,.6 .2,.4-.3,.3-.6,.2-5.4,.4-7.3-.2-18-1-8.7-.7-10-1.5-9.9-.9-19.7-2.4-9.7-2.8-10-2.6-5-2-4-2.6-2-2-1.3-2.1-.1-.8 1.4-1.9zM198.5,253.4l.6-.3 .7,.2 .2,.4-.1,.7-.4,.3-.7-.1-.5-.6z"/>
<path fill="#139dd4" d="M99.5,222.1l2.7,0 4.3,1 4.3,1.6 5.4,2.5 6.6,2.5 5,2.2 13,4.7 4.3,2 4,.9 12.7,1.9 10.6,2.3 4.1,1.1 .7,.6 .3,.6-.1,.4-.9,.6-3.4,.1-5.1-.1-6.2-.5-7-1.3-9.7-3.1-2.3-.5-10-1.6-4.8-1.6-5.2-3-11.8-5-8.4-4.3-3.1-2.4-.5-1zM56.5,241.7l4.7,1.1 3.6,2 .5,.6 0,.6-.5,.2-4-1.2-4.3-1.9-.3-.7zM72.5,249.8l2.3,1.4 .9,1.2 .5,1-1.2-.4-2.5-2-.3-.6zM78.9,253.4l2.3-.2 3.6,.6 14.7,3.4 10,2.5 10,2 19.6,3.3 10,2.4 18.7,2.5 7.3,1.4 8.3,2 3.3,1.4 .8,.6-.4,.4-1,.2-3,.3-7.3-.1-18-1-8.7-.7-10-1.6-9.9-.8-19.7-2.3-10-2.9-9.7-2.6-5-2-3.6-2.2-2.4-2.4-1.3-2.2 .1-.4z"/>
<path fill="#32bed6" d="M100.2,222.7l2-.2 4.3,.9 4.7,1.9 5,2.4 6.6,2.5 5.4,2.3 11.3,4.2 5.6,2.5 4,.8 5.8,.7 8,1.3 9.9,2.4 2.8,1 .6,.3-.1,.3-2,.5-4,.1-8.6-.5-6.7-1.3-5.5-1.8-4.2-1.5-4-1-8.3-1-4.6-1.5-5.4-3-11.6-4.9-4.7-2.4-4.8-2.6-1.6-1.7-.1-.3zM78.9,253.7l2.3-.3 3.6,.6 14.7,3.4 10,2.6 10,2 19.6,3.3 10,2.5 19.1,2.5 7.9,1.7 6.7,1.7 1.6,.6 .6,.7-.3,.3-1.6,.4-7,0-18.3-1-8.7-.7-10-1.5-10.4-.8-19.2-2.3-10-2.9-9.7-2.5-5-2-3.6-2.3-2.4-2.4-1-1.9z"/>
<path fill="#9bdeac" d="M101.3,223.4l.9-.3 4,.6 .8,.4 4.2,1.6 5,2.5 19.4,7.5 4.3,2 2.8,1.7-.6,.2-3.3-.1-5.6-.3-5-1.6-5.4-3.2-6.6-2.9-5-1.9-5.2-2.5-4-2.4-.6-.6zM145.8,240.4l1.3-.1 4.8,.4 9.6,1.4 7.8,1.9 2,.7 1,.7-.3,.3-1.5,.3-4.4,0-4.3-.2-5.9-1.1-1.4-.3-5.6-2-2.7-1.4-.4-.3zM81.2,253.7l4,.7 14.3,3.3 10,2.5 10,2 19.6,3.4 10,2.6 19,2.5 9.1,2 4.3,1.3 1.1,.7-1.5,.4-5,.1-18.1-.9-8.9-.7-10-1.4-11.1-.9-18.5-2.1-10-2.9-9.7-2.6-5-2-3.8-2.3-1.8-2-.7-1-.3-1 .6-1.4z"/>
<path fill="#e0e664" d="M103.3,224.4l.9-.3 2,.2 4.6,1.8 5.4,2.9 17.1,6.4 3.1,1.6 .7,.7 0,.3-.5,.4-.8,.1-2.6,.1-5-1.5-5.7-3.5-6.3-2.9-5.2-1.6-4-2-2.7-1.7zM150.7,241.4l4.1,.1 7,1.1 4.9,1.4 1.3,.7 .1,.3-1.6,.4-4.7-.1-6.7-1.2-4.2-1.7-.8-.7zM81.2,253.9l3.6,.6 14.7,3.4 10,2.6 29.6,5.4 10,2.8 19,2.4 8,1.9 1.7,.7 .4,.3-.3,.3-.4,.1-2.7,.2-6.7-.1-10.3-.6-8.7-.7-10-1.3-9.9-.7-8.4-.9-11.3-1.4-9.7-2.8-10-2.6-5-2-3.6-2.3-2.4-2.7-.3-.8 .2-1 .5-.5z"/>
<path fill="#f5dc22" d="M106,225.4l.5-.2 4.4,1.5 1.9,1.4 .3,.3 0,.3-.8,0-1.5-.4-4.2-2.2zM124,233.1l.8-.1 1.5,.4 6.1,2.3 1.6,1 .3,.7-.5,.3-1,.1-4.6-1.3-3.1-2.1-1-1zM153.4,242.4l.7-.3 1,0 6.4,.9 1.9,.7 .6,.3 .3,.4-1.2,.3-2,0-6-1.2-1.1-.5zM81.2,254.2l3.6,.5 14.7,3.4 10,2.6 29.6,5.6 10,2.8 19,2.5 4.8,1.4 .7,.3 0,.4-2.1,.2-3.4,.1-15.5-1-13.5-1.4-9.9-.7-9.6-.9-10.1-1.3-19.7-5.4-5-2-3.6-2.3-2-2.3-.4-.7 0-1 .4-.4z"/>
<path fill="#fac305" d="M80,254.7l1.2-.3 3.6,.6 14.7,3.4 10,2.6 29.6,5.6 10,3.1 15.3,2.3 3.4,.7-1.3,.2-3.7,0-14-.8-9.7-.9-9.7-.5-7.5-.7-12.4-1.6-19.7-5.4-5-2-3.6-2.3-1.2-1.3-.9-1.7 .3-.7z"/>
<path fill="#f5a20f" d="M80.2,255l1-.2 3.6,.5 15,3.4 9.7,2.5 29.5,5.8 7.2,2.7 1.3,.6 .2,.4-.9,.3-1.3,0-16.3-.6-9.7-.9-10-1.3-19.7-5.4-5-2-4-2.8-.9-1.3-.2-.7 .1-.6z"/>
<path fill="#f08214" d="M80.6,255.4l.6-.3 3.6,.4 14.7,3.4 10,2.6 10,1.8 15.9,3.4 3.7,.9 1.1,.4 1.9,1 .5,.7-.5,.3-2,.2-10.9-.2-9.7-.7-10-1.4-19.7-5.4-5-2-3.9-2.8-.7-1.3 .1-.7z"/>
<path fill="#ee5f12" d="M81.1,255.7l3.7,.2 14.7,3.3 10,2.6 10.3,1.9 12,2.6 5.9,1.7 1.3,.7 .1,.3-.7,.3-2.6,.3-7,0-9.3-.6-10-1.4-19.7-5.4-4.5-1.8-1.2-.7-2.9-2.2-.5-1.1z"/>
<path fill="#e32f16" d="M82,256.4l1.5-.2 1.8,.2 14.2,3.1 10,2.6 13.3,2.6 9.1,2.3 1.8,.7 .9,.6-.3,.4-2,.3-7.4,0-5.4-.3-10-1.4-20-5.6-4.8-2-2.8-2.3-.3-.7z"/>
<path fill="#db361b" d="M83.4,257l1.4-.2 4.8,.9 9.9,2.2 10,2.6 10.2,1.8 7.5,2 1.8,.7 1.1,.7-.3,.4-1.6,.3-6.7,0-2-.1-10-1.4-19.9-5.5-4.8-2.2-1.5-1.5-.1-.3z"/>
<path fill="#bc4b36" d="M84.8,258l.4-.2 1,0 4,.6 9.4,2 9.9,2.6 10,1.7 5.2,1.6 1.1,.7 .1,.3-.7,.4-1,.1-4.7,.1-10-1.5-19.7-5.5-3.8-1.9z"/>
<path fill="#a95743" d="M89,259l1,0 8.9,1.7 10.6,2.8 10,1.7 2.2,.8 .9,.7-.1,.3-.7,.2-2.3,.2-10-1.5-10.4-2.9-8.7-2.6-1.3-.7-.3-.3z"/>
<path d="M53.5,189.4 V302.9 H218.8" fill="none" stroke="#2a2a2a" stroke-width="1.1"/>
<path d="M53.5,302.9v-4M86.6,302.9v-4M119.6,302.9v-4M152.7,302.9v-4M185.7,302.9v-4M218.8,302.9v-4M53.5,302.9h4M53.5,259.2h4M53.5,215.6h4" fill="none" stroke="#2a2a2a" stroke-width="1.1"/>
<text x="53.5" y="319.2" font-size="12.62" text-anchor="middle">0</text>
<text x="86.6" y="319.2" font-size="12.62" text-anchor="middle">1</text>
<text x="119.6" y="319.2" font-size="12.62" text-anchor="middle">2</text>
<text x="152.7" y="319.2" font-size="12.62" text-anchor="middle">3</text>
<text x="185.7" y="319.2" font-size="12.62" text-anchor="middle">4</text>
<text x="218.8" y="319.2" font-size="12.62" text-anchor="middle">5</text>
<text x="49.2" y="307.3" font-size="12.62" text-anchor="end">0</text>
<text x="49.2" y="263.6" font-size="12.62" text-anchor="end">50</text>
<text x="49.2" y="220" font-size="12.62" text-anchor="end">100</text>
<text x="109.3" y="334.8" font-size="12.62" text-anchor="start">Time (ms)</text>
<rect x="271.6" y="193.1" width="165.3" height="110.2" fill="#5c5280"/>
<path fill="#443899" d="M355.7,204.4l1,0 .2,.6 .8,2.1 .9,5.1 1.7,14.9 0,5-.4,3.6-1.1,0-.7-3.6-.9-5.8-1.6-14.6-.2-4.6zM347.8,210.4l.9,0 1.7,2.7 1.2,2.6 4.3,11.8 1.3,4.3 1.1,3.9 .7,4.3-.3,3-.7,1.7-1.1,.1-.3-.1-.7-1.7-5-15.6-2.2-7.3-.8-4-.3-3zM340.8,223.1l.9,0 3.3,7 2.9,4.3 4.9,5.6 2.8,4 2.3,3.7 .8,4 1.3,11.3-.6,2.3-1,1.4-1.5,0-1.3-1.4-1.8-2.3-5-8-2-3.6-3.4-7.4-1.3-4-1.5-9.9-.2-4zM340.7,252l.8,0 1,3.4 1.3,3 1.7,3 8.7,6.9 3.1,4.7 2.3,5.3 .7,4.4-.8,3-1.7,2.6-1.3,0-1.3-1-2.9-1.7-6-2.6-4.2-4.7-2.1-5.3-.7-4.7 .2-9.9 .3-3z"/>
<path fill="#2347ab" d="M355.9,204.4l.7,0 .9,2.7 .9,5 .8,6.5 .9,8.5 .1,5-.4,3.6-.8,0-.4-1.8-2-13.8-.8-8-.3-5zM347.9,210.4l.7,0 1.7,2.7 1.3,2.9 4.3,11.8 1.3,4.3 1.1,3.9 .6,4-.3,3-.8,1.7-1,0-.8-1.7-3.6-10.9-3.5-11.9-.9-4.5-.2-2.6zM340.9,223.1l.7,.1 3.3,6.9 2.9,4.3 4.7,5.6 2.9,4 2.3,3.7 .8,4 1.4,11.3-.7,2.3-.9,1.4-1.3,0-1.2-1.4-1.9-2.3-4.9-8-1.9-3.6-3.4-7.4-1.4-4-1.6-9.9-.2-4zM340.8,252l.6,0 1,3.4 1.3,3 1.6,3 8.6,6.9 3.1,4.7 2.2,5.3 .8,4.7-.7,2.7-1.7,2.6-.9,0-1.3-1-3.1-1.8-5.7-2.5-4.1-4.7-2.2-5.3-.7-4.7 0-9.9 .3-3z"/>
<path fill="#1069c0" d="M356.2,204.4l.1,0 .3,.6 .8,2.1 .9,5 1,8 .7,7 0,5-.4,3.6-.4,0-.8-3.6-1.7-12-.8-8-.2-5zM348.2,210.4l.4,.3 1.5,2.4 1.5,3.3 4,10.8 1.5,4.9 1,3.9 .6,4-.3,3-.8,1.7-.6,0-.8-1.7-3.6-10.9-3.6-12-.9-4.4-.2-2.6zM341.2,223.1l.4,.4 3.2,6.6 2.6,4 4.9,5.9 2.8,4 2.3,3.7 .8,4 1.5,11.3-.7,2.3-1,1.4-.8,0-1.3-1.4-1.8-2.3-4.8-7.9-5.3-11.1-1.4-4-1.7-9.9-.2-4zM340.9,252.4l.4-.3 1.1,3.6 1.3,3 1.5,2.7 8.4,6.9 3,4.7 2.3,5.3 .7,4.7-.6,2.7-1.1,1.9-.7,.7-4.6-2.7-5.7-2.6-4-4.7-2.2-5.3-.8-4.7-.1-9.9 .3-3z"/>
<path fill="#0d85cc" d="M356.2,205.2l.4,.4 .6,1.9 .9,4.6 1.1,9.2 .6,5.8 0,4.6-.2,2.2-.4,.7-.6-2.5-1.7-12-1-11.6 0-1.4zM348.3,211.4l.3-.2 1,1.4 1.7,3.5 3.3,8.6 2.3,7.4 1.1,3.9 .5,4-.4,3-.5,1.1-.4,.2-1-1.9-3.3-9.7-3.7-12.3-.9-4.3-.2-3zM341.2,223.7l.4,.2 .3,.6 2.7,5.6 2.8,4.3 4.6,5.6 5.1,7.7 .8,4 1.1,7.3 .5,4-.8,2.3-.8,1.2-.3,.1-1.4-1.2-1.8-2.4-4.8-7.6-5.4-11.4-1.4-4-1.8-9.9-.2-4zM340.9,253l.4-.2 1.8,4.9 1.9,3.7 8.3,6.9 2.9,4.7 2.2,5.3 .9,4.7-.5,2.7-1,1.6-.6,.6-.3,0-4.3-2.5-5.3-2.4-4-4.7-2.2-5.3-.8-4.7-.4-9.6 .3-3.3z"/>
<path fill="#139dd4" d="M356.6,206.4l.3,.7 1,5 1,8 .7,7 0,5-.4,1-.4-1-.6-3.4-1.3-10.2-.7-7.4-.1-4 .1-.6zM348.5,212.1l.4,0 .7,.9 1.7,3.4 2.9,7.8 2.6,7.9 1,3.9 .5,4-.4,2.7-.3,.6-.4,.2-.3-.3-.7-1.5-2.9-8.4-4-13.2-.8-4-.1-3zM341.2,224.7l.4-.3 2.9,5.7 2.7,4.3 4.5,5.6 5.1,7.7 .9,4 1.1,7.3 .4,4-.7,2.3-.9,.9-1-.7-2-2.5-4.7-7.6-5.4-11.4-1.4-4-1.2-5.6-.7-4.3-.2-4zM340.9,253.7l.4-.2 1.8,4.5 1.7,3.4 8.1,6.9 2.9,4.7 2.2,5.3 .9,4.4-.4,3-1.3,1.8-.6,0-3.7-2.1-5.2-2.4-4-4.7-2.2-5.3-.9-4.7-.5-6.6 0-3 .3-3.3z"/>
<path fill="#32bed6" d="M356.6,208.1l.3,.6 .7,2.9 1,7.3 .8,8.2-.2,3.4-.3,0-.3-1.5-1.4-9.2-.7-7.7zM348.8,213.1l.1-.3 .7,.7 1.7,3.3 2.9,7.8 2.4,7.2 1.1,4.2 .4,3.7-.3,2-.2,.6-.4,.4-.6-.9-2.4-6.1-3.6-11.6-1.1-4-.8-4zM341.5,225.1l.8,.8 2,4.2 2.7,4.3 4.4,5.6 5.1,7.7 .8,3.7 1.3,7.6 .4,4-.8,2.1-.6,.7-.8-.5-2-2.3-4.7-7.6-5.3-11.4-1.4-4-1.3-5.6-.7-4.3-.2-4zM341.3,254.3l.3,.6 1.5,3.5 1.5,3 7.9,6.9 2.9,4.7 2.2,5.3 .9,4.7-.3,2.7-.9,1.3-.4,.2-1-.3-7.8-3.9-3.9-4.7-2.3-5.3-.9-4.7-.7-6.6 0-3 .3-3.3z"/>
<path fill="#9bdeac" d="M356.9,211.1l.4,1 1.2,8 .5,6.3-.1,1.6-.3-.8-1-6.6zM349.2,213.7l.4,.3 1,1.8 1.7,3.8 2.9,8.2 1,3.4 1.3,4.8 .3,2.4 .1,1.6-.3,1.2-.4,.6-.3-.2-.3-.5-2-4.9-1.7-4.8-2.3-7.8-1-3.5-.7-4 0-1.7zM341.5,225.7l.4,.1 .4,.5 1.8,3.8 2.7,4.3 4.4,5.6 5,7.7 .9,3.7 1.3,7.6 .3,3.7-.5,1.7-.6,1-.7-.3-1.8-2.1-4.7-7.6-5.3-11.4-1.4-4-1.4-5.6-.8-4.3-.1-3.4zM341.3,254.9l.3,.6 2.8,5.9 7.8,6.9 2.8,4.7 2.2,5.3 .9,4.4-.2,2.8-1,1.3-1-.1-7.5-3.7-3.8-4.7-2.3-5.3-1-4.7-.8-6.9 0-3 .3-3z"/>
<path fill="#e0e664" d="M349.6,214.7l1,1.6 1.7,3.8 2.9,8.2 2.1,7.7 .3,3.7-.4,1.1-.3,0-.3-.4-2-4.6-3.7-11.5-1.1-4.2-.5-3.3-.1-1.7zM341.7,226.7l.2-.3 4.7,8 4.3,5.6 5,7.7 .9,3.7 1.4,7.6 .3,4-.9,1.8-.4,0-.3-.1-1.6-1.7-4.7-7.6-5.2-11.4-1.4-4-1.5-5.6-.8-4.3zM341.2,255.7l.7,1 2.3,4.7 7.7,6.9 2.7,4.7 2.1,5.3 1,4.4-.1,2.6-.7,1-.7,.2-.6-.2-6.8-3.3-3.8-4.7-2.3-5.3-1-4.7-1-6.9-.1-3 .3-2.1z"/>
<path fill="#f5dc22" d="M349.6,215.5l.3,.2 .4,.4 1,2 2.3,5.8 1.5,4.2 2.1,7.9 .1,3.4-.1,.5-.3,.2-.7-.9-1.3-2.9-2.6-8-2.4-8.2-.4-2.7zM342.2,227.4l4.2,7 4.2,5.6 5,7.7 1,3.7 1.4,7.6 .3,4-.6,1-.5,.4-.6-.3-1.1-1.1-4.7-7.6-5.1-11.4-1.5-4-1.5-5.6-.8-4.3 0-2.5zM341.3,256.5l.3,.1 2.7,5.1 7.3,6.6 2.6,4.7 2.2,5.3 1,4.4-.1,2.6-.1,.4-.6,.5-.7,0-.7-.2-6-3-3.8-4.7-2.3-5.3-1.1-4.7-1.1-6.9-.1-3z"/>
<path fill="#fac305" d="M349.9,216.6l.4,.2 .3,.5 1.3,2.8 3,8 2.1,7.9 .1,2-.2,1.1-.3,0-.4-.5-1-2-1.9-5.5-3-10.5-.4-2.2zM342.3,228.2l.3,.2 .3,.5 3.3,5.5 4.2,5.6 5,7.7 .9,3.7 1.4,7.6 .3,4-.8,.9-.6-.2-.8-.7-4.7-7.6-5.1-11.4-1.5-4-1.6-5.5-.8-4.4zM341.6,257.3l.3,.4 2.2,4 7.1,6.6 2.7,4.7 2.1,5.3 1,4.4 0,2.6-.4,.5-.7,.1-.9-.2-5.5-2.7-3.7-4.7-2.4-5.3-1.1-4.7-1.2-6.9 0-3z"/>
<path fill="#f5a20f" d="M350.2,218.1l.4-.1 1,1.8 1.7,4 1.5,4.3 1.1,4 .9,3.9 0,1.4-.2,.8-.7-.7-.7-1.3-1.6-4.5-2.7-9.1-.6-2.5zM342.6,229.1l.3,.3 3.1,5 4.3,5.9 4.8,7.4 .9,3.7 1.5,7.6 .2,3.7-.1,.3-.4,.4-.6-.1-.7-.6-4.6-7.3-5.1-11.4-1.4-4-1.6-5.3-.9-4.6zM341.4,258.4l.2-.4 .3,.3 2,3.4 7,6.6 .4,.6 2.2,4.1 2.1,5.3 1,4.7-.1,2.3-.3,.3-.4,.1-.9-.3-5-2.4-3.7-4.7-2.4-5.3-1.2-4.7-1.3-6.9z"/>
<path fill="#f08214" d="M350.7,219.4l.2-.1 .4,.5 .6,1.3 2.7,7 1.1,4 .9,3.9-.1,.7-.3,.5-.6-.9-.7-1.5-2.3-6.8-1.7-6.3-.3-1.6zM342.8,230.4l.1-.3 .7,.9 2.2,3.4 6.5,9.3 2.5,4 .9,3.7 1.6,7.6 0,3-.4,1-.7-.5-1-1.3-3.6-5.8-5-11.4-1.5-4-1.7-5.3zM341.7,259.4l.2-.4 1.8,2.7 6.8,6.6 .4,.7 2.1,4 2.1,5.3 1.1,4.7-.3,1.9-.3,.3-1-.3-4.2-1.9-3.8-4.7-2.3-5.3-1.3-4.7-1.4-6.6z"/>
<path fill="#ee5f12" d="M351.3,220.8l.3,.4 1,1.9 1.8,5 1.5,5.8 .3,1.8-.1,.3-.2,.1-1.7-3.6-1.3-4.1-1.3-4.6zM343.4,232.1l.2-.3 1,1.2 7.3,10.7 2.5,4 1,3.7 1.6,7.6-.1,2-.3,.9-.4-.1-.6-.7-1.5-2.1-2.2-3.6-1.6-3.6-3.4-7.8-1.5-4-1.8-5.6zM342.1,260.4l.5,.2 .7,1.1 7,7 2.3,4.3 2,5.3 1.1,4.7-.5,1.4-.3,.2-1-.3-3-1.3-3.8-4.7-2.4-5.3-1.2-4.3-1.6-7 0-1z"/>
<path fill="#e32f16" d="M351.9,222.8l.7,1 1.6,4.5 1.1,3.8 .1,1.3-.2,.4-1-2-.9-3.1-1.4-4.6zM344.1,233.7l.2-.2 1,1.2 6.3,9.1 2.4,3.9 1.2,4 1.4,7.3-.4,1.7-.6-.3-1-1.1-2.7-4.5-5-11.8-2.6-7.9zM342.5,261.7l.1-.2 1,.8 3.2,3 3.1,3.4 2.2,4.3 2,5.3 1,4.4-.1,.6-.4,.5-1,0-2.1-.8-3.8-4.7-2.5-5.3-2.2-7.7z"/>
<path fill="#db361b" d="M353.4,227.7l.2-.2 .3,.9 0,1zM345.4,236.4l.2-.2 .3,.4 2.4,3.1 5.3,8 1.3,4.7 1.2,6.3-.2,.9-.3,0-.7-.6-2.6-4.3-4.7-11.1-1.3-3.8zM343.3,263.2l.3-.2 1,.8 1.7,1.5 3.1,3.4 2.1,4.3 1.9,5.3 .9,4.4-.1,.3-.3,.2-1,0-1-.5-3.6-4.4-2.5-5.3-2.4-7.7z"/>
<path fill="#bc4b36" d="M347.3,240.4l.3-.3 1.3,1.5 4.2,6.1 1.1,3.7 .7,3.4 .3,2.6 0,.3-.3,.2-1.9-2.5-1.4-3.3-3.3-8.1zM344.3,264.4l.3,.1 1,.7 3.2,3.5 2,4.3 1.8,5.3 .2,2.4-.2,.9-1-.6-2.5-2.7-1.2-2.3-1.6-3.6-2-6.3-.3-.8z"/>
<path fill="#a95743" d="M349,243.4l.3-.1 .6,.6 2.7,3.8 1.2,4 .6,3.3-.2,.8-.6-.5-1.7-3.6-2.6-7zM345.2,266l.4,.1 .7,.5 1.7,1.7 .3,.5 1.8,4.2 .5,1.5 1,3.8-.3,.6-.7-.2-.7-.8-2.7-4.9-1.7-4.7z"/>
<path d="M271.6,189.4 V302.9 H436.9" fill="none" stroke="#2a2a2a" stroke-width="1.1"/>
<path d="M271.6,302.9v-4M304.7,302.9v-4M337.7,302.9v-4M370.8,302.9v-4M403.8,302.9v-4M436.9,302.9v-4M271.6,302.9h4M271.6,259.2h4M271.6,215.6h4" fill="none" stroke="#2a2a2a" stroke-width="1.1"/>
<text x="271.6" y="319.2" font-size="12.62" text-anchor="middle">0</text>
<text x="304.7" y="319.2" font-size="12.62" text-anchor="middle">1</text>
<text x="337.7" y="319.2" font-size="12.62" text-anchor="middle">2</text>
<text x="370.8" y="319.2" font-size="12.62" text-anchor="middle">3</text>
<text x="403.8" y="319.2" font-size="12.62" text-anchor="middle">4</text>
<text x="436.9" y="319.2" font-size="12.62" text-anchor="middle">5</text>
<text x="267.3" y="307.3" font-size="12.62" text-anchor="end">0</text>
<text x="267.3" y="263.6" font-size="12.62" text-anchor="end">50</text>
<text x="267.3" y="220" font-size="12.62" text-anchor="end">100</text>
<text x="327.4" y="334.8" font-size="12.62" text-anchor="start">Time (ms)</text>
<rect x="489.5" y="193.1" width="165.3" height="110.2" fill="#5c5280"/>
<path fill="#443899" d="M566.1,237.7l1.2,0 1.6,9.3 .9,11 .3,12 .4,7.5 1.1-7.5 1.3-5.3 1,0 .1,5.3-2,19.6 .2,3.1 1.3,0 .3,4.1 1.3,0 .4-5 1.3,0 .3-.8 3,.1 .4,7.1 1.3,0 .3,.4 0,.9 1.4,0 .1-1.2 1.5-.1 .4-2.7 1.3,0 .3-1.5 0-3.2 1.4,0 .3-.9 1.3,0 .2,3.4 .2,.4 1,0 .1,.3 .2,2.3 0,7-8.3,0 0-3.3-1.4,0 0,3.3-92.6,0 0-12.8 1.3,0 .4,3 1.3,0 .3-.7 1.4,0 .3,3.4 1.3,0 .4-1.7 3,0 .2-.5 .1-.9 1.3,0 .3-.5 .1-.6 1.3,0 .3-3.1 1.4,0 .3,1.8 1.3,0 .4,2.6 1.3,0 .3,.2 1.4,0 0-.6-1.4,0 0-.9 1.4,0 .3-.8 1.3,0 .4-1.7 1.3,0 .3,2.5 1.4,0 .3-2.1 1.3,0 .4,4 1.3,0 .3-.5 1.4,0 .3-1.4 1.3,0 .4-2.8 1.3,0 .3,.9 1,0 .4,2 1.3,0 .3,.6 1.4,0 .1-1.4 .2-.3 1.3,0 .2,.3 .2,1.9 1.3,0 .3-.6 1.4,0 .3-4 1.3,0 .4,1.2 3,.2 .2,4.3 .1,.3 1.3,0 .4-1.2 1.3,0 0-.4 .3-.2 1.4,0 .3-3.6 1.3,0 .4,5.1 1.3,0 .3-4.8 1.4,0 .3,4.5 1.3,0 .4-.6 1.3,0 .3-5.1 1.4,0 .3,3.2 1.3,0 .4-2 1.3,0 .3,2.3 1,0 .4,2.4 1.3,0 .3-1.6 0-1.8 1.4,0 .1,.8 .2,.3 1.3,0 .3,.7 .1,1.5 1.3,0 .1,.5 .2,.3 1.4,0 .3-.8 1.3,0 .1-.1-1.4-3-.7-4-.5-7-.4-10 .1-8 .7-15 .5-5zM576.2,278.3l.7,0 .2,3.7-.7,5-.6,2.3-.3,.1-.5-.1-.2-2.3 .5-5zM600.1,289.3l1.4,0 .3,3.1 1.3,0 .4,2.7 1.3,0 .1-.1 .2-3.1 1.4,0 0,.7 .3,.3 1.3,0 .4-2.6 1.3,0 .3-1 1.4,0 .3,4.5 1.3,0 .4,.7 1.3,0 .3,1.1 1.4,0 .2-1.6 .1-3.4 1.3,0 .4,6.2 1.3,0 .3-6.5 3,.1 .4-.4 2.6,0 .4,5.5 1.3,0 .3-.3 1.4,0 .3-5.6 1.3,0 .4,4.2 1.3,0 .3-3.7 1.4,0 .3,4.1 1.3,0 .4-1 1.3,0 .2-.2 .1-1.7 1.4,0 .1,2.7 .2,.3 1.3,0 .4-3.4 1.3,0 .3-1 1.4,0 .3,5 3,.2 .3,.4 1.4,0 .3-2.7 1.3,0 .4,2.1 1.3,0 .3-3.2 1.4,0 .2-.4 .1-.6 0,12.6-56.6,0 .3-9.7 1.3,0zM615.1,295.8l0,.3 1.4,0 0-.3zM539.2,292.3l1.3,0 .1,.3-.1,.2-1.3,0zM593.5,297.3l1.3-.1 .2,1.1-1.5,.1zM595.1,299.1l1.4,0 0,1.2-1.4,0zM593.4,301.6l1.4-.1 .3-.2 1.4,0 0,2-3.1,0z"/>
<path fill="#2347ab" d="M566.3,237.7l.9,0 1.6,9.3 .9,11 .5,18.7 .3,1.8 1.3-8.5 1-4.5 .2-.8 .7,0 .1,5.3-2,19.6 .4,3.5 1.3,0 0,.2 .3,4 0,6-10.2,0 0-7 .2-.7 1.4,0 .3-1.2 1.3,0 .2,.2 .2,1.3 1.3,0 0-.3 0-.4-.7-.1-1-1.5-1.1-2.6-.7-4-.5-7-.3-7.4 0-10.6 .6-15 .6-5zM567.2,300.2l0,1.1 1.3,0 0-1.1zM576.4,278.3l.2,0 .1,.4 .1,3.3-.6,5-.7,2.3-.2-.3-.2-2 .5-5zM532.5,289l1.3-.1 .4,3.5 1.3,0 .1-.8 .2-.1 1.4,0 0,3.5 .3,.2 1.3,0 .2,.1 .1,8-3.5,0-.1-1.9-1.3,0-.1,1.9-16.4,0 .1-8.7 0-.2 1.4,0 .3-1.6 1.3,0 .4-2.9 1.3,0 .3,.5 1,0 .4,2.2 1.3,0 .3,.4 1.4,0 .3-1.9 1.3,0 .4,3 1.3,0 .3-1.2 1.4,0 .1-.3zM534.2,292.6l0,3.3 1.3,0 .2-.3 .1-2.6-.3-.4zM534.2,297.1l0,2.9 1.3,0 0-2.9zM550.8,288.7l1.4,0 .3,3.5 1.3,0 .4-2.4 1.3,0 .3,2.8 1,0 .4,1.9 1.3,0 .2-.5 .1-1.3 1.4,0 .3-.4 1.3,0 .3,2 0,9-21.6,0 0-9 .3-1.2 1.4,0 .3-3.4 1.3,0 .4,8.8 1.3,0 .3-8.7 1.4,0 .2,4.2 .1,.2 1.4,.1 .3,2.9 1.3,0zM552.5,292.9l0,.3 1.3,0 0-.3zM502.8,289.4l1.4,0 .3,1.8 1.3,0 .4,2.6 1.3,0 .1,.2-.1,.1-1.3,0-.1,.2 .1,.3 1.3,0 .2,.4 .1,8.3-5.3,0 0-1.8-1.3,0-.1,1.8-3.5,0-.1-6 .2-2 .1-.3 1.4,0 .3-1.1 1.5,.1 0,6 .2,.2 1.3,0 0-7.2zM600.1,289.7l1.4,0 .3,3.5 1.3,0 .4,2.4 1.3,0 .3,.4 0,7.3-6.7,0 .1-1.8 1.3,0 0-4.3-1.3,0 0-2.7 1.3,0zM610.1,290l1.4-.1 .3,5.8 1.3,0 0,1.4-1.3,0 0,3 1.3,0 .3,.2 .1,1.3 1.3,0 0,1.7-1.6,0 .3-1.7-.4,0-1.3,0 0,1.7-5.3,0 .1-10 .2-.3 1.3,0 .4-2.5 1.3,0zM511.2,290.2l1.3,0 .3,3.2 1.4,0 .3,.8 1.4,.1-.1,2.8-1.3,0-.2,.2 .2,6-5.3,0 .1-11 .2-.6 1.3,0zM624.7,290.6l1.4,0 .4,11 1.3,0 0,1.7-3.3,0 0-1.8-1,0-.1,1.8-3.4,0 0-3 .1-.2 1.4,0 0-.1 .1-7.4 .2-1.6 1.4,0 .3,1-.1,3.6 .1,.3 1,0 0-4.3zM623.5,297l0,3 1,0 0-3zM633.1,290.6l1.4,0 .3,4 1.3,0 .4-1 1.4,0 .2,1 0,3.9 1.4,0 1.6-.1 .1-.1-.1-1.1-1.3,0-.1-.9 .1-.6 1.3,0 .4-4.2 1.3,0 .3-1 1.4,0 .2,5.5 .1,7.3-5.1,0 0-3-.2-.2-1.4,0 0,3.2-8.5,0-.1-6 .3-6.5 1.3,0 .2,2.8 .2,.7 1.3,0zM489.5,291.1l1.3,0 .4,3.5 1.3,0 .3-1.4 1.4,0 .3,4 1.5,.1 0,1-.2,.2-1.3,0 0,4.8-5,0zM616.8,291.2l1.3,0 .1,.1 .2,7.3-.2,4.7-1.5,0 0-3-.2-.3-1.4,0 0-1.4 1.4,0 .2-.3zM580.1,291.5l.3,8.5 .1,.1 1.3,0 .1,.2-.1,3-6.6,0 0-5.7 .3-4.4 1.3,0 0-.2 0-.2-1.3,0 0-.2 1.3,0 .3-.8zM587.1,292.1l1.4,0 .1,.5-1.5,.1zM653.1,292.3l1.4,0 .3-.2 0,11.2-8.4,0 .1-1.9 1.3,0 .2-4.8 .1-.2 1.4,0 .3-3.1 1.3,0 .4,2 1.3,0zM590.4,294.6l1.1-.1 .1,.5 .1,1.6 0,6.7-1.5,0-.1-4.7-1.4,0 .1,1.4-1.7,.1 0,1.3 1.4,0 .1,.2 .1,1.7-5,0 .1-4 1.3-.1 .4-3 1.3,0 .3,1.1 1.4,0 .2-.3 .1-1.1 1.3,0zM587.1,295.3l1.4,0 0,.3-1.4,0z"/>
<path fill="#1069c0" d="M566.6,237.7l.3,0 .3,1.2 1.4,8.1 .9,11 .7,20.7 .3,1 1.4-9.7 1.2-5.1 .4-.2 .1,5.3-1.9,19.6 .5,4.1 1.3,0 .2,9.6-5.1,0 0-8-.1-.5-.4,.2-.9-1.2-1-2.1-.3-.7-.8-4-.5-7-.4-10 .1-8 .7-15 .6-5zM576.5,280.6l0,2-.7,4.4-.3,.8-.1-.8 .4-4.8 .3-1.4zM550.8,289l1.4,0 .3,6.9 1.3,0 .1-.3 0-3 .3-2.6 1.3,0 .3,3.8 1,0 .1,.8 .3,.4 1.3,0 .3,.3 0,8-1.9,0-.1-3.2-1,0-.1,3.2-5.2,0zM552.5,297l0,3.1 1.3,0 0-3.1zM555.8,297.1l0,1.4 1,0 0-1.4zM552.5,301.6l0,.6 1.3,0 0-.6zM532.5,289.4l1.3,0 .1,.2-.1,.4-1.3,0zM502.8,290l1.4-.1 .1,1.4 .2,.5 1.3,0 .4,3.6 1.3,0 .2,7.9-5.1,0 0-10.3zM542.5,290l1.3,0 .3,13.3-3.5,0 0-9 .2-.7 1.4,0 .2-1zM545.8,290l1.4,0 .1,4.3 .2,.4 1.3,0 .1,.3 .2,8.3-3.5,0 0-3 .2-.3 0-1.3 1.4,0-1.4-.1-.1-.3zM600.1,290l1.4-.1 .1,3.1 .2,.6 1.3,0 .4,2.2 1.4,.2 .1,7.3-5.1,0 0-8.7zM532.5,290l1.3,0 .1,.6 .1,12.7-1.8,0 0-1.8-1.4,0-.2,.1 .1,1.7-9.7,0 .1-1.7-3.3-.2 0-1.1 1.4,0 .2-.3 .1-1.4 3-.1 0-1.4-1.3,0-.3-.1-.1-1.3-1.4-.1 .1-1 1.3,0 .1-.3 .3-.1 1.3,0 0-1.4-1.4-.2 .1-1.6 1.3,0 .3-.2 1,0 .4,2.2 1.3,0 .2,.3 .1,2.5 1.4,0 .2-4.5 1.4-.1 .4,4.3 1.3,0 0,.2-1.3,0 0,1.4 1.3,0 .2-1.1 1.5-.1 .1-.3-.1-1.6-1.4,0 0-.3 1.4,0 .2-1.1zM521,300.3l.2,1.2 1.3,0 0-1.3zM525.8,300.3l0,1.1 1.4,0 0-1.1zM530.8,297.1l-.2,.2 .1,1-.2,.2-1.3,0 0,1.7 3,0 .2-.2 0-1.4-.2-.3 0-1.2zM511.2,290.7l1.3,0 .3,3.5 1.5,.1-.1,1.5-1.4,0-.1,.2 .1,4 0,.1 1.4,0 .1,.2-.1,3-4.9,0 .1-10.3 .1-.7 1.3,0zM608.5,290.8l3,.1 .1,10.4-.1,.3-1.4,0 0,1.7-3.5,0 .1-9.7 .1-.4 1.3,0zM489.5,291.3l1.3,0 0,2.8-1.3,0zM624.8,291.8l1.3,0 .2,11.5-1.7,0 0-7.3zM643.1,292l1.4-.1 .2,11.4-1.9,0 .1-3-.1-.2-1.4-.1 .1-1.5 1.3,0 0-.2 0-1.2-1.4-.1 .1-2.8 1.3,0zM578.8,292.2l1.3,0 0,.7-1.3,.1 0,.1 1.3,0 .3,10.2-5.1,0 .1-4.7 .1-.3 1.3,0 0-1-1.3,0-.1-1.3 .1-.2 1.3,0 .2-2.8 .1-.2 1.4,0zM577.1,298.6l0,.6 1.4,0 0-.6zM621.8,292l1.3,0 0,1-1.3,0zM633.1,292.3l1.4-.1 .3,3 1.3,0 .4-.8 1.3,0 .2,1.2 0,7.7-8.2,0-.1-3 .1-1.9 1.3,0 .2-3.1 .2-.3 1.3,0zM560.5,292.7l1.3,0 .2,1.6 .1,9-1.9,0 0-9zM653.1,292.8l1.4,0 .1,.2 .2,1.1 0,9.2-6.8,0 0-1.7 .1-.2 1.4,0 .1-1.1-1.5-.1-.1-.2 0-2.7 .1-.2 1.5-.1 .2-2 1.3,0 .4,1.3 1.3,0zM621.8,293.1l1.3,0 0,1-1.3,0zM492.8,294l1.4,0 0,.3 .1,9-4.8,0 0-1.8 3,.1 .2-.3-.2-2.9-1.3,0-.2,.2 0,1.4-.2,.2-1.3,0 0-3.1 3,.1zM616.8,294.3l1.3,0 0,1.4-1.3,0zM565.5,294.8l1.3,0 .2,.5 .1,8-1.9,0 0-1.7-1.4,0-.1-.3 .1-2.7 1.4,0 0-.3 0-1.1-1.4,0 0-1.2 1.4-.1zM590.5,295.2l1,0 .1,.8 0,7.3-1.3,0-.1-7.3zM497.8,295.6l1.6,0 .1,4.4-.3,1.6 0,1.7-1.4,0-.2-5zM517.8,295.8l1.4,0 .1,1.2-.1,.1-1.4,0zM537.2,296l.3-.3 1.3,0 .2,1.3-.2,.3-1.3,0-.3-.3zM621.8,295.7l1.3,0 .2,.3-.1,7.3-1.5,0zM585.5,297.1l1.3,0 .1,.2 .1,6-1.7,0 0-1.7-.1-.3zM537.5,298.3l1.3-.1 .2,.4 0,4.7-3.3,0 0-3 .1-.2 1.4,0 .1-1.5zM616.7,298.6l1.4-.1 0,1.6-1.3,0z"/>
<path fill="#0d85cc" d="M566.6,239.4l.2-.2 .4,1.1 1,5.4 1,10.3 1,25.5 .3-.6 1.6-10.9 1-4.1 .2,.8 .2,3.3-2.1,20.6 .1,.7 .3,0 .2,2.7-.2,.2-1.4,.1 .1,1.5 1.3,0 .1-1.2 .3-.2 1.3,0 .1,3.9-.1,.2-1.3,0-.2-.2 0-1-.2-.2-1.3,0-.1,.2 .1,2.9 3-.1 .1,3.2-1.8,0 0-1.8-3,.1-.1-6.6-.2-.5-.3,.1-.7-.6-1-2-.4-1-.8-4-.5-7-.4-10 .1-8 .7-15 .7-5zM550.8,289.4l1.4,0 0,.2 0,.3-1.4,0zM550.8,290.2l1.4,0 .2,2.4 0,10.7-1.8,0zM542.5,290.5l1.3,0 0,.8-1.3,0zM600.1,290.5l1.4,0 .1,2.8 .2,.7 1.3,0 .4,2.3 1.3,0 .2,3.7-.2,.3-1.3,0 0,1 1.3,0 .1,2-4.9,0 .1-6.3 1.4,0 0-1.1-1.4,0-.1-.3zM502.8,291l0-.1 1.4,0 0,.1zM545.8,291l1.4-.1 0,2-1.4,0zM554.2,290.8l1.3,0 .1,4.8-.1,2.9-1.3,0-.2-.2zM527.5,291.3l1.3,0 .1,.3 .2,5.7-.1,1.3 .1,4.7-1.9,0 0-3.2-1.4,0-.1,1.2-.2,.3-1.3,0 0,1 1.3,0 0,.7-2.9,0 .1-11.7 .1-.2 1,0 .4,2.3 1.3,0 .1,1.9 .1,.4 0,2.3 .1,.2 1.4,0zM542.5,291.6l1.3,0 0,2.6-1.4,.1 .1,1.4 1.3,0 .1,.3 .1,2.3-.2,.3-1.5,0 .2,1.5 1.3,0 .2,3.2-3.3,0 0-9 .1-.2 1.5-.1zM608.5,291.3l1.3,0 .2,.3 .1,2-.1,3.4 .1,.3 1.4,0 0,1-1.4,.1-.1,4.9-3.4,0 .1-9.3 .1-.4 1.3,0zM511.2,292.1l1.3,0 .2,2.2 .1,1.3-.2,.4 .2,7.3-3.4,0 0-7.3 .1-.3 1.4-.1 0-1.3-1.4-.1-.1-1.2 .1-.2 1.3,0 .3-.2zM504.5,292.4l1.3,0 .1,3.2 .3,.4 1.3,0 0,2.5-1.3,0-.2,.1 .2,2.2 1.3,0 .1,2.5-4.9,0 .1-10.3 0-.2 1.4,0zM633.1,292.8l1.4,0 0,2.5 .3,.5 1.3,0 .4-.6 1.3,0 0,.7-1.4,.1 .1,1 1.3,0 .1,.3-.1,1.3-1.4,0 .1,1.4 1.3,0 .2,3.3-6.7,0 0-1.7-.1-.3 .1-5.3 .2-.2 1.5-.2zM633.1,298.5l0,1.5 1.4,0 0-1.5zM560.5,293.3l1.3,0 .2,4 0,6-1.7,0zM653.1,293.4l1.4,0 .2,2.2-.1,1.4-.1,.1-1.4,0-.1,.2 0,2.7 1.6,0 0-1.4 .2-.1 0,3-1.7,.1 0,1.7-1.9,0 0-1.7 .3-.3 1.3,0 0-1-4.7-.3 0-2.6 1.4,0 .1,.9 .2,.2 1.3,0 .2-1.2 .2-.2 1.4-.1zM545.8,294l0-.2 1.4,0 0,.2zM643.1,294l1.4-.1 .1,9.4-1.7,0 .2-3-.1-.3 0-4zM532.5,294l1.3,0 .2,4.3-.2,.2-1.3,0-.2-.2zM577.1,294.3l1.4-.1 .1,.1 .2,1.5 1.3,0 0,1.3-1.3,0-.3,.2 0,1.1-1.4-.1zM624.8,294.2l1.3,0 .1,.1 0,9-1.5,0zM492.8,294.5l1.4,0 0,1.4-1.4,0zM547.3,295.6l.2-.2 1.3,0 .2,1.9 0,2.7-.2,.3 .2,3-3.3,0 0-3 .1-.1 1.4,0 .1-.2-.1-3-1.4-.1 1.4,0zM557.1,295.6l1.4,0 .1,.4 .1,7.3-1.8,0 .2-6-.2-.7zM565.5,295.4l1.3,0 .2,1.6-.1,6.3-1.5,0 0-1.7-.2-.3 .1-4-.1-.3-1.4,0 1.4-.1zM590.3,296l.2-.3 1,0 .1,.3-.1,7.3-1.1,0zM537.5,296.3l1.3-.1 0,.9-1.3,0zM497.8,297l1.4-.1 .1,3.1-.1,.2-1.4,0zM537.5,299.3l1.3-.1 0,.9-1.3,0zM532.4,300.3l1.4-.1 .1,3.1-1.6,0zM553.9,300.3l.3-.3 1.3,0 .2,.3 0,1-.2,.3-1.3,0-.3-.3zM578.6,300.3l.2-.2 1.3,0 .2,.2 0,3-1.7,0zM621.8,300.1l1.3,0 0,1.3-1.3,0zM537.5,301.3l1.3,0 .1,2-1.6,0z"/>
<path fill="#139dd4" d="M566.6,241l.2-.1 .4,1 .9,5.1 1,11 1.1,25.9 2.2-13.9 .4-1.8 .3-.3 .1,2.1-2,21-.7,1.4-.3-.9-.4,.3-.8,1.8-.8,.6-.9-.9-1-2.3-.9-4-.5-7-.4-10 .2-8 .8-15 .7-4.7zM550.8,291l1.4,0 .1,3-.1,1.9-1.4,0-.1-1.9zM600.1,291.5l1.4,0 0,1.2-1.4,0zM522.8,292l1-.1 .4,3.9 1.3,0 .1,.2-.1,1.2-1.4,.1 .1,1.1 1.3,0 .1,1.6-.1,1.4-1.3,0-.2,.2 0,1.7-1.3,0 .1-3-.2-.3 0-1.4zM527.5,291.7l1.3,0 0,2.6-1.3,0zM608.5,291.7l1.3,0 .1,.6 .1,3.3-.1,.4 0,1 .2,.3 0,1-.2,5-3.2,0 .1-9.3 1.3-.1zM511.1,293l1.4,0 0,2.8-1.3,0-.1-1.5-.3-.3-1.3,0 0-.3 1.3,0zM560.5,294l1.3,0 0,1.9-1.3,0zM600.1,294.3l3-.1 .3,2.8 1.4,0 0,3.1-1.3,0-.3,.2 .1,1 .2,.3 1.3,0 0,1.7-4.7,0 0-4.7 3-.2 .1-1.1-1.4-.1-.1-.2 0-1-.2-.3-1.4,0zM527.5,294.4l1.3,0 .2,2.9 .1,1-.2,.3 .1,4.7-1.7,0 0-7.3 .2-.4zM540.8,294.6l1.4,0 0,1.2-1.4,0zM502.8,295.3l1.4-.1 0,.8-1.4,0zM505.8,295.9l.1,1.1-.1,.2-1.4,.1-.2,3 .2,3-1.7,0 .1-7.3zM509.5,296l1.5,0 0,1-.2,.1-1.3,0zM542.4,296l1.4-.1 0,2.5-3,.1 0-1.4 1.4,0 .2-.1zM557.1,296l1.4,0 0,1.1-1.3,0zM590.4,296l1.1,0 0,5.5-1,0-.1-.2zM624.8,296l1.3-.1 0,5.6-1.3,0-.1-.2zM633,296l1.5-.1 .2,1.1-1.8,0zM643.1,296.1l1.4,0 0,1-1.4,0zM565.5,296.4l1.3,0 0,3.7-1.3,0-.1-.1zM511,297.3l.2-.1 1.3,0 0,.1 .2,6-3.3,0 .1-1.8 1.3,0 .2-1.2-1.5-.1-.1-1.6 .1-.2 1.5-.1zM532.5,297.3l1.3-.1 0,1.2-1.3,0zM547.3,297.3l.2-.3 1.3,0 0,3.2-1.3,0-.1-.2zM550.6,297.3l.2-.3 1.4,0 .1,.3 0,1-.1,.3 .2,4.7-1.8,0 .2-4.7-.2-.3zM560.3,297.3l.2-.3 1.3,0 .2,.3-.1,6-1.5,0zM568.8,297.3l1.4,0 0,4-1.4,0zM631.5,297.1l1.3,0 0,2.9 .3,.2 1.4,0 .2-.2 0-2.7 .1-.3 1.3,0 .3,.3-.2,2.7 .2,.3 .1,1 1.3,0 .1,2-1.7,0-.1-1.8-3,.1-.3-.2-1.3,0zM554.1,300.3l1.4-.1 0,1.2-1.3,0zM557,300.3l.2-.3 1.3,0 .1,.3 0,3-1.6,0zM572,300.3l1.5-.1 0,1.3-1.3,0zM578.8,300.3l1.4,0 0,3-1.5,0zM540.8,301l1.4,0 0,.3 .3,.2 1.3,0 .1,1.8-3.1,0zM506.1,301.6l1.4,0 0,1.7-1.5,0zM532.5,301.6l1.3-.1 .1,1.8-1.5,0zM547.3,301.6l.2-.1 1.3,0 .1,1.8-1.7,0zM643.1,301.5l1.4,0 0,1.8-1.5,0zM651.4,301.6l1.4-.1 .1,1.8-1.5,0zM633.1,302.3l1.4,0 0,1-1.5,0z"/>
<path fill="#32bed6" d="M566.8,242.7l.4,.9 .7,3.4 1,11 .8,22 .5,6.5 1.1-8.5 1.5-8.5 .1,.5-1.1,14-.8,7-.5,.7-.3-.7 0-3.4-.2,3.4-1.2,2.3-.6,.5-.7-.7-1-2.1-.9-4-.5-7-.4-10 .1-8 .9-15 .8-4zM550.8,291.3l1.4-.1 0,3.1-1.4,0zM527.5,292.1l1.3,0 0,.7-1.3,0zM608.5,292.3l1.3-.1 0,.7-1.3,0zM522.8,292.7l1,0 .1,.3 .2,7-.3,.2-1,0-.1-.2zM608.5,293.3l1.3-.1 .2,2.4-.2,.3-1.6,.1 .1,1 1.5,0 .2,.3 0,4-.2,.3-1.4,0 .1,1.7-1.8,0 .1-3.2 1.3,0 .1-.1-.1-1.5-1.3,0-.1-.2 .1-3.7 1.3,0zM601.8,294.6l1.3,0 0,1.3-1.3,0-.2-.3zM560.5,294.7l1.3,0 0,1-1.3,0zM527.4,296l.1-.2 1.3,0 .2,2.5-.2,.3-1.3,0-.2-.3zM547.5,297.3l1.3,0 0,2.7-1.3,0zM550.7,297.3l.1-.2 1.4,0 .1,1.2-.1,.2-1.4,0zM560.5,297.1l1.3,0 .1,.2 0,6-1.5,0zM527.5,300.1l1.3,0 .2,3.2-1.6,0zM550.8,300.2l1.4,0 .1,3.1-1.6,0zM557.1,300.3l1.4-.1 0,3.1-1.4,0zM511.2,301l1.3-.1 0,2.4-1.6,0zM502.8,301.6l1.4,0 0,1.7-1.4,0zM522.8,301.6l1-.1 .1,1.8-1.1,0zM636.5,302.7l1.3,0 0,.6-1.3,0z"/>
<path fill="#9bdeac" d="M566.6,244.7l.2-.3 .8,2.6 1.2,11 .8,22 .4,7-.3,4-.9,1.8-.6,.6-.7-.8-.8-1.6-.9-4-.6-7-.4-10 .2-8 .5-7.6 .5-7.4zM572.2,274.2l.1,.8-.1,1.7-.7,9-.7,4.9-.3,.5-.1-5.1 1.1-8.2zM550.8,292.8l1.4,0 0,1.3-1.4,0zM608.5,294.2l1.3,0 0,1.6-3,0 0-.7 1.3,0zM601.8,295.6l0-.1 1.3,0 0,.2zM527.4,296l1.4-.1 0,2.6-1.3,0-.1-.2zM522.8,297.1l1,0 .2,2.9-.2,.1-1.1-.1zM550.8,297.2l1.4,0 0,1.3-1.4,0zM560.4,297.3l1.4-.1 0,1.4-1.3,0zM606.8,297.3l1.7-.2 1.3,0 .1,.2 0,4-.1,.2-1.5,.1 0,1.7-1.5,0 0-1.9 1.4-.1 .1-2.7-.2-.2-1.3,0zM527.5,301.4l1.3,0 .1,1.9-1.5,0zM550.8,301.3l1.4,0 .1,2-1.6,0z"/>
<path fill="#e0e664" d="M566.8,246.1l.4,.9 1.4,11 .8,22 .5,7-.4,4-.7,1.3-.6,.5-.7-.7-.6-1.1-1-4-.5-7-.4-10 .2-8 .3-4.9 .7-7.9 .2-2.2zM571.5,279.7l.1,1-.1,2.4-.7,5.6-.2-2.7zM527.5,296l1.3,0 0,2.4-1.3,0zM550.8,297.3l1.4,0 0,1.1-1.4,0zM608.3,297.3l1.5,0 0,4.1-1.5-.1zM560.5,297.5l1.3,0 0,.8-1.3,0zM522.8,298.6l1,0 0,1.4-1,0zM550.8,301.5l1.4,0 0,1.8-1.4,0zM527.5,302.1l1.3,0 0,1.2-1.3,0z"/>
<path fill="#f5dc22" d="M566.8,248.1l.4,1 1.3,9.9 .8,21 .4,7-.4,4-.5,.8-.6,.6-1.1-1.4-1-4-.6-7-.4-10 .4-10.6 .7-7.2zM608.5,298.4l1.3,0 0,2.9-1.4,0zM550.8,301.6l1.4,0 0,1.7-1.4,0z"/>
<path fill="#fac305" d="M566.8,250.9l.4,.7 .6,3.6 .7,6 .6,17.1 .4,8.7-.4,4-.6,.8-.3,.1-.9-.9-1-4-.6-7-.4-10 .2-8.3 .7-7.2z"/>
<path fill="#f5a20f" d="M566.8,253.4l.4,.3 .3,1.3 .5,3 .4,4 .6,18 .4,7-.6,3.9-.3,.4-.3,.2-.7-.8-1.1-3.7-.6-7-.4-10 .3-8.3 .5-5.1z"/>
<path fill="#f08214" d="M566.8,255.4l.4,0 .3,1.2 .7,5.4 1,25-.4,2.6-.3,1.1-.3,.3-.7-1.2-.9-2.8-.6-7-.4-10 .2-8.1 .6-4.5z"/>
<path fill="#ee5f12" d="M566.8,257.1l.4,0 .2,.9 .6,4 1,25-.5,2.3-.3,.7-.7-1-.7-2-.6-7.4-.4-11.2 .2-6.4z"/>
<path fill="#e32f16" d="M567.1,259l.6,3 1.1,25-.6,1.9-.4-.1-.8-1.8-.6-7-.4-10 .3-8 .5-2.9z"/>
<path fill="#db361b" d="M567.1,261l.4,2.2 1,23.8-.3,.9-.4,0-.5-.9-.7-7-.4-10 .4-8 .2-.9z"/>
<path fill="#bc4b36" d="M566.8,265.7l.4-.3 .3,4.5 .4,12.1-.1,4.8-.6-4.7-.4-4.4-.3-7.7z"/>
<path d="M489.5,189.4 V302.9 H654.8" fill="none" stroke="#2a2a2a" stroke-width="1.1"/>
<path d="M489.5,302.9v-4M522.6,302.9v-4M555.6,302.9v-4M588.7,302.9v-4M621.7,302.9v-4M654.8,302.9v-4M489.5,302.9h4M489.5,259.2h4M489.5,215.6h4" fill="none" stroke="#2a2a2a" stroke-width="1.1"/>
<text x="489.5" y="319.2" font-size="12.62" text-anchor="middle">0</text>
<text x="522.6" y="319.2" font-size="12.62" text-anchor="middle">1</text>
<text x="555.6" y="319.2" font-size="12.62" text-anchor="middle">2</text>
<text x="588.7" y="319.2" font-size="12.62" text-anchor="middle">3</text>
<text x="621.7" y="319.2" font-size="12.62" text-anchor="middle">4</text>
<text x="654.8" y="319.2" font-size="12.62" text-anchor="middle">5</text>
<text x="485.2" y="307.3" font-size="12.62" text-anchor="end">0</text>
<text x="485.2" y="263.6" font-size="12.62" text-anchor="end">50</text>
<text x="485.2" y="220" font-size="12.62" text-anchor="end">100</text>
<text x="545.3" y="334.8" font-size="12.62" text-anchor="start">Time (ms)</text>
<defs><linearGradient id="cbg" x1="0" y1="0" x2="0" y2="1"><stop offset="0.000" stop-color="#a25c48"/><stop offset="0.025" stop-color="#ab5642"/><stop offset="0.050" stop-color="#b4503c"/><stop offset="0.075" stop-color="#c7442c"/><stop offset="0.100" stop-color="#da371c"/><stop offset="0.125" stop-color="#de3019"/><stop offset="0.150" stop-color="#e22a16"/><stop offset="0.175" stop-color="#e84314"/><stop offset="0.200" stop-color="#ee5c12"/><stop offset="0.225" stop-color="#ef6d13"/><stop offset="0.250" stop-color="#f07f14"/><stop offset="0.275" stop-color="#f28f12"/><stop offset="0.300" stop-color="#f49f10"/><stop offset="0.325" stop-color="#f7af0c"/><stop offset="0.350" stop-color="#f9c006"/><stop offset="0.375" stop-color="#f9ce10"/><stop offset="0.400" stop-color="#f6da1f"/><stop offset="0.425" stop-color="#f1e22f"/><stop offset="0.450" stop-color="#e4e65a"/><stop offset="0.475" stop-color="#cfe787"/><stop offset="0.500" stop-color="#aae1a1"/><stop offset="0.525" stop-color="#83daba"/><stop offset="0.550" stop-color="#57cdcb"/><stop offset="0.575" stop-color="#28b9d8"/><stop offset="0.600" stop-color="#1aacd8"/><stop offset="0.625" stop-color="#15a1d6"/><stop offset="0.650" stop-color="#1198d3"/><stop offset="0.675" stop-color="#0f8fd0"/><stop offset="0.700" stop-color="#0d87cc"/><stop offset="0.725" stop-color="#0c7ec9"/><stop offset="0.750" stop-color="#0e74c5"/><stop offset="0.775" stop-color="#1069c0"/><stop offset="0.800" stop-color="#125fbc"/><stop offset="0.825" stop-color="#1c52b3"/><stop offset="0.850" stop-color="#2545a9"/><stop offset="0.875" stop-color="#303aa1"/><stop offset="0.900" stop-color="#3d399c"/><stop offset="0.925" stop-color="#493897"/><stop offset="0.950" stop-color="#52418f"/><stop offset="0.975" stop-color="#594b87"/><stop offset="1.000" stop-color="#5c5280"/></linearGradient></defs>
<rect x="684" y="205.4" width="22.5" height="82.1" fill="url(#cbg)" stroke="#222" stroke-width="1"/>
<text x="679.6" y="210.7" font-size="12.62" text-anchor="end">0</text>
<text x="679.6" y="244.1" font-size="12.62" text-anchor="end">–10</text>
<text x="679.6" y="276.9" font-size="12.62" text-anchor="end">–20</text>
<text x="688" y="334.3" font-size="11.5" text-anchor="start">(dB)</text>
<path fill="none" stroke="#0a0a0a" stroke-width="3.6" stroke-linejoin="round" d="M53.5,400.5 54.0,400.2 54.5,400.0 55.0,399.8 55.5,399.7 56.0,399.7 56.5,399.8 57.0,400.0 57.5,400.4 58.0,400.9 58.5,401.5 59.0,402.2 59.5,402.9 60.0,403.7 60.5,404.5 61.0,405.4 61.5,406.2 62.0,407.0 62.5,407.8 63.0,408.5 63.5,409.1 64.0,409.7 64.5,410.2 65.0,410.5 65.5,410.7 66.0,410.8 66.5,410.6 67.0,410.3 67.5,409.9 68.0,409.3 68.5,408.6 69.0,407.8 69.5,406.9 70.0,406.0 70.5,405.0 71.0,404.0 71.5,403.0 72.0,402.1 72.5,401.2 73.0,400.3 73.5,399.6 74.0,398.9 74.5,398.4 75.0,398.0 75.5,397.7 76.0,397.7 76.5,397.8 77.0,398.1 77.5,398.6 78.0,399.2 78.5,400.0 79.0,400.9 79.5,401.8 80.0,402.8 80.5,403.9 81.0,405.0 81.5,406.1 82.0,407.3 82.5,408.4 83.0,409.4 83.5,410.4 84.0,411.3 84.5,412.2 85.0,412.9 85.5,413.4 86.0,413.9 86.5,414.1 87.0,414.2 87.5,413.9 88.0,413.3 88.5,412.4 89.0,411.2 89.5,409.9 90.0,408.3 90.5,406.6 91.0,404.7 91.5,402.9 92.0,400.9 92.5,399.0 93.0,397.2 93.5,395.4 94.0,393.8 94.5,392.3 95.0,391.1 95.5,390.0 96.0,389.3 96.5,388.9 97.0,388.9 97.5,389.5 98.0,390.6 98.5,392.2 99.0,394.2 99.5,396.6 100.0,399.3 100.5,402.2 101.0,405.3 101.5,408.5 102.0,411.8 102.5,415.0 103.0,418.1 103.5,421.1 104.0,423.8 104.5,426.3 105.0,428.4 105.5,430.1 106.0,431.3 106.5,432.0 107.0,432.0 107.5,431.1 108.0,429.3 108.5,426.7 109.0,423.4 109.5,419.5 110.0,415.2 110.5,410.5 111.0,405.6 111.5,400.6 112.0,395.6 112.5,390.6 113.0,385.9 113.5,381.5 114.0,377.5 114.5,374.1 115.0,371.4 115.5,369.4 116.0,368.3 116.5,368.2 117.0,369.1 117.5,371.0 118.0,373.7 118.5,377.2 119.0,381.3 119.5,385.9 120.0,390.9 120.5,396.3 121.0,401.8 121.5,407.5 122.0,413.2 122.5,418.7 123.0,424.1 123.5,429.1 124.0,433.7 124.5,437.8 125.0,441.3 125.5,444.0 126.0,445.9 126.5,446.8 127.0,446.6 127.5,444.9 128.0,441.8 128.5,437.5 129.0,432.2 129.5,426.1 130.0,419.3 130.5,411.9 131.0,404.3 131.5,396.5 132.0,388.7 132.5,381.2 133.0,374.0 133.5,367.3 134.0,361.4 134.5,356.4 135.0,352.5 135.5,349.8 136.0,348.5 136.5,348.8 137.0,350.7 137.5,353.9 138.0,358.3 138.5,363.7 139.0,369.9 139.5,376.8 140.0,384.2 140.5,391.8 141.0,399.6 141.5,407.4 142.0,414.9 142.5,422.1 143.0,428.6 143.5,434.5 144.0,439.4 144.5,443.2 145.0,445.8 145.5,446.9 146.0,446.5 146.5,445.2 147.0,443.0 147.5,440.0 148.0,436.2 148.5,431.9 149.0,427.1 149.5,422.0 150.0,416.5 150.5,410.9 151.0,405.2 151.5,399.6 152.0,394.1 152.5,388.9 153.0,384.0 153.5,379.6 154.0,375.7 154.5,372.5 155.0,370.1 155.5,368.6 156.0,368.1 156.5,368.6 157.0,370.1 157.5,372.4 158.0,375.4 158.5,379.0 159.0,383.2 159.5,387.7 160.0,392.6 160.5,397.6 161.0,402.6 161.5,407.6 162.0,412.4 162.5,417.0 163.0,421.1 163.5,424.8 164.0,427.8 164.5,430.1 165.0,431.6 165.5,432.1 166.0,431.8 166.5,430.9 167.0,429.5 167.5,427.6 168.0,425.3 168.5,422.8 169.0,419.9 169.5,416.9 170.0,413.7 170.5,410.5 171.0,407.2 171.5,404.1 172.0,401.0 172.5,398.2 173.0,395.6 173.5,393.3 174.0,391.5 174.5,390.1 175.0,389.2 175.5,388.9 176.0,389.0 176.5,389.6 177.0,390.4 177.5,391.5 178.0,392.9 178.5,394.4 179.0,396.1 179.5,397.9 180.0,399.8 180.5,401.7 181.0,403.6 181.5,405.5 182.0,407.3 182.5,408.9 183.0,410.4 183.5,411.7 184.0,412.8 184.5,413.6 185.0,414.1 185.5,414.2 186.0,414.0 186.5,413.7 187.0,413.2 187.5,412.6 188.0,411.8 188.5,411.0 189.0,410.0 189.5,409.0 190.0,407.9 190.5,406.8 191.0,405.7 191.5,404.6 192.0,403.5 192.5,402.4 193.0,401.4 193.5,400.5 194.0,399.7 194.5,399.0 195.0,398.4 195.5,398.0 196.0,397.7 196.5,397.7 197.0,397.8 197.5,398.1 198.0,398.6 198.5,399.2 199.0,399.9 199.5,400.7 200.0,401.5 200.5,402.5 201.0,403.4 201.5,404.4 202.0,405.4 202.5,406.3 203.0,407.2 203.5,408.1 204.0,408.9 204.5,409.5 205.0,410.1 205.5,410.5 206.0,410.7 206.5,410.8 207.0,410.6 207.5,410.4 208.0,410.0 208.5,409.5 209.0,408.9 209.5,408.2 210.0,407.5 210.5,406.7 211.0,405.9 211.5,405.0 212.0,404.2 212.5,403.4 213.0,402.6 213.5,401.9 214.0,401.3 214.5,400.7 215.0,400.3 215.5,399.9 216.0,399.7 216.5,399.7 217.0,399.7 217.5,399.9 218.0,400.1 218.5,400.3"/>
<path fill="none" stroke="#9a9a9a" stroke-width="2.1" stroke-linejoin="round" d="M53.5,398.8 54.0,398.6 54.5,398.4 55.0,398.2 55.5,398.1 56.0,398.0 56.5,397.9 57.0,397.8 57.5,397.7 58.0,397.6 58.5,397.5 59.0,397.4 59.5,397.3 60.0,397.2 60.5,397.1 61.0,397.1 61.5,397.0 62.0,396.9 62.5,396.8 63.0,396.8 63.5,396.7 64.0,396.6 64.5,396.6 65.0,396.5 65.5,396.5 66.0,396.4 66.5,396.4 67.0,396.3 67.5,396.3 68.0,396.2 68.5,396.2 69.0,396.1 69.5,396.1 70.0,396.1 70.5,396.0 71.0,396.0 71.5,395.9 72.0,395.9 72.5,395.9 73.0,395.8 73.5,395.8 74.0,395.7 74.5,395.7 75.0,395.6 75.5,395.6 76.0,395.5 76.5,395.5 77.0,395.4 77.5,395.3 78.0,395.2 78.5,395.1 79.0,395.1 79.5,395.0 80.0,394.9 80.5,394.8 81.0,394.7 81.5,394.5 82.0,394.4 82.5,394.3 83.0,394.2 83.5,394.0 84.0,393.9 84.5,393.7 85.0,393.6 85.5,393.4 86.0,393.3 86.5,393.1 87.0,392.9 87.5,392.8 88.0,392.6 88.5,392.4 89.0,392.2 89.5,392.0 90.0,391.7 90.5,391.5 91.0,391.2 91.5,390.9 92.0,390.5 92.5,390.2 93.0,389.8 93.5,389.5 94.0,389.1 94.5,388.7 95.0,388.3 95.5,387.9 96.0,387.5 96.5,387.1 97.0,386.7 97.5,386.3 98.0,385.8 98.5,385.4 99.0,384.9 99.5,384.4 100.0,384.0 100.5,383.4 101.0,382.9 101.5,382.4 102.0,381.9 102.5,381.4 103.0,380.8 103.5,380.3 104.0,379.8 104.5,379.2 105.0,378.7 105.5,378.1 106.0,377.6 106.5,377.0 107.0,376.4 107.5,375.8 108.0,375.2 108.5,374.6 109.0,374.0 109.5,373.4 110.0,372.8 110.5,372.3 111.0,371.7 111.5,371.1 112.0,370.5 112.5,370.0 113.0,369.5 113.5,368.9 114.0,368.3 114.5,367.7 115.0,367.2 115.5,366.7 116.0,366.2 116.5,365.9 117.0,365.7 117.5,365.5 118.0,365.3 118.5,365.2 119.0,365.1 119.5,365.0 120.0,364.9 120.5,364.8 121.0,364.7 121.5,364.5 122.0,364.4 122.5,364.2 123.0,364.0 123.5,363.6 124.0,363.3 124.5,362.8 125.0,362.4 125.5,361.9 126.0,361.4 126.5,360.8 127.0,360.1 127.5,359.3 128.0,358.2 128.5,357.1 129.0,355.9 129.5,354.8 130.0,353.9 130.5,353.0 131.0,352.1 131.5,351.2 132.0,350.5 132.5,349.8 133.0,349.3 133.5,348.9 134.0,348.5 134.5,348.2 135.0,347.9 135.5,347.7 136.0,347.6 136.5,347.6 137.0,347.8 137.5,348.0 138.0,348.3 138.5,348.7 139.0,349.1 139.5,349.5 140.0,350.0 140.5,350.7 141.0,351.6 141.5,352.4 142.0,353.3 142.5,354.2 143.0,355.3 143.5,356.4 144.0,357.6 144.5,358.7 145.0,359.6 145.5,360.4 146.0,361.0 146.5,361.6 147.0,362.1 147.5,362.6 148.0,363.0 148.5,363.4 149.0,363.8 149.5,364.1 150.0,364.3 150.5,364.4 151.0,364.6 151.5,364.7 152.0,364.8 152.5,364.9 153.0,365.0 153.5,365.1 154.0,365.3 154.5,365.4 155.0,365.6 155.5,365.8 156.0,366.0 156.5,366.4 157.0,366.9 157.5,367.4 158.0,368.0 158.5,368.5 159.0,369.1 159.5,369.7 160.0,370.2 160.5,370.8 161.0,371.3 161.5,371.9 162.0,372.5 162.5,373.1 163.0,373.7 163.5,374.3 164.0,374.9 164.5,375.5 165.0,376.1 165.5,376.6 166.0,377.2 166.5,377.8 167.0,378.4 167.5,378.9 168.0,379.4 168.5,380.0 169.0,380.5 169.5,381.0 170.0,381.6 170.5,382.1 171.0,382.6 171.5,383.1 172.0,383.6 172.5,384.1 173.0,384.6 173.5,385.1 174.0,385.6 174.5,386.0 175.0,386.4 175.5,386.9 176.0,387.3 176.5,387.7 177.0,388.1 177.5,388.5 178.0,388.9 178.5,389.2 179.0,389.6 179.5,390.0 180.0,390.3 180.5,390.7 181.0,391.0 181.5,391.3 182.0,391.6 182.5,391.8 183.0,392.1 183.5,392.3 184.0,392.5 184.5,392.6 185.0,392.8 185.5,393.0 186.0,393.2 186.5,393.3 187.0,393.5 187.5,393.7 188.0,393.8 188.5,393.9 189.0,394.1 189.5,394.2 190.0,394.3 190.5,394.5 191.0,394.6 191.5,394.7 192.0,394.8 192.5,394.9 193.0,395.0 193.5,395.1 194.0,395.2 194.5,395.3 195.0,395.3 195.5,395.4 196.0,395.5 196.5,395.5 197.0,395.6 197.5,395.7 198.0,395.7 198.5,395.7 199.0,395.8 199.5,395.8 200.0,395.9 200.5,395.9 201.0,396.0 201.5,396.0 202.0,396.0 202.5,396.1 203.0,396.1 203.5,396.2 204.0,396.2 204.5,396.2 205.0,396.3 205.5,396.3 206.0,396.4 206.5,396.4 207.0,396.5 207.5,396.5 208.0,396.6 208.5,396.7 209.0,396.7 209.5,396.8 210.0,396.9 210.5,396.9 211.0,397.0 211.5,397.1 212.0,397.2 212.5,397.2 213.0,397.3 213.5,397.4 214.0,397.5 214.5,397.6 215.0,397.7 215.5,397.8 216.0,397.9 216.5,398.0 217.0,398.2 217.5,398.3 218.0,398.5 218.5,398.7"/>
<path d="M53.5,347.6 V461.4 H218.8" fill="none" stroke="#2a2a2a" stroke-width="1.1"/>
<path d="M53.5,461.4v-4M136.2,461.4v-4M218.8,461.4v-4M53.5,461.4h4M53.5,404.5h4M53.5,347.6h4" fill="none" stroke="#2a2a2a" stroke-width="1.1"/>
<text x="62.2" y="477.7" font-size="12.62" text-anchor="end">–0.1</text>
<text x="136.2" y="477.7" font-size="12.62" text-anchor="middle">0</text>
<text x="218.8" y="477.7" font-size="12.62" text-anchor="middle">0.1</text>
<text x="49.2" y="465.8" font-size="12.62" text-anchor="end">–1</text>
<text x="49.2" y="408.9" font-size="12.62" text-anchor="end">0</text>
<text x="49.2" y="352" font-size="12.62" text-anchor="end">1</text>
<text x="108.4" y="491.3" font-size="12.62" text-anchor="start">Delay, <tspan font-family="Liberation Serif" font-size="13.5">τ</tspan> (ms)</text>
<path fill="none" stroke="#0a0a0a" stroke-width="3.6" stroke-linejoin="round" d="M271.6,410.2 272.1,409.0 272.6,407.8 273.1,406.8 273.6,405.7 274.1,404.7 274.6,403.8 275.1,403.0 275.6,402.2 276.1,401.5 276.6,400.9 277.1,400.3 277.6,399.9 278.1,399.5 278.6,399.2 279.1,399.0 279.6,398.8 280.1,398.8 280.6,398.9 281.1,399.1 281.6,399.5 282.1,399.9 282.6,400.4 283.1,401.0 283.6,401.6 284.1,402.2 284.6,402.9 285.1,403.5 285.6,404.2 286.1,404.8 286.6,405.3 287.1,405.8 287.6,406.2 288.1,406.5 288.6,406.7 289.1,406.8 289.6,406.8 290.1,406.9 290.6,406.9 291.1,406.9 291.6,406.9 292.1,406.9 292.6,407.0 293.1,407.0 293.6,407.0 294.1,407.1 294.6,407.2 295.1,407.4 295.6,407.7 296.1,407.9 296.6,408.2 297.1,408.5 297.6,408.7 298.1,408.9 298.6,409.0 299.1,409.0 299.6,408.7 300.1,408.0 300.6,407.1 301.1,406.0 301.6,404.7 302.1,403.2 302.6,401.7 303.1,400.2 303.6,398.7 304.1,397.2 304.6,395.9 305.1,394.8 305.6,393.8 306.1,393.2 306.6,392.9 307.1,392.9 307.6,393.3 308.1,394.0 308.6,395.0 309.1,396.2 309.6,397.7 310.1,399.3 310.6,401.1 311.1,403.0 311.6,404.9 312.1,407.0 312.6,409.0 313.1,411.0 313.6,413.0 314.1,414.8 314.6,416.6 315.1,418.2 315.6,419.6 316.1,420.8 316.6,421.7 317.1,422.4 317.6,422.7 318.1,422.6 318.6,421.9 319.1,420.6 319.6,418.8 320.1,416.6 320.6,414.0 321.1,411.2 321.6,408.2 322.1,405.0 322.6,401.9 323.1,398.8 323.6,395.8 324.1,393.0 324.6,390.5 325.1,388.4 325.6,386.7 326.1,385.5 326.6,384.9 327.1,384.9 327.6,385.3 328.1,386.0 328.6,386.9 329.1,388.1 329.6,389.5 330.1,391.0 330.6,392.6 331.1,394.4 331.6,396.1 332.1,397.9 332.6,399.7 333.1,401.4 333.6,403.0 334.1,404.5 334.6,405.8 335.1,406.9 335.6,407.8 336.1,408.4 336.6,408.9 337.1,409.4 337.6,409.8 338.1,410.2 338.6,410.5 339.1,411.0 339.6,411.4 340.1,412.0 340.6,412.6 341.1,413.5 341.6,415.0 342.1,416.8 342.6,419.0 343.1,421.3 343.6,423.8 344.1,426.1 344.6,428.4 345.1,430.3 345.6,431.9 346.1,433.0 346.6,433.5 347.1,432.8 347.6,430.2 348.1,425.9 348.6,420.2 349.1,413.4 349.6,405.8 350.1,397.7 350.6,389.3 351.1,381.1 351.6,373.1 352.1,365.9 352.6,359.6 353.1,354.6 353.6,351.1 354.1,349.4 354.6,349.8 355.1,352.3 355.6,356.4 356.1,362.0 356.6,368.7 357.1,376.2 357.6,384.3 358.1,392.7 358.6,401.0 359.1,408.9 359.6,416.2 360.1,422.6 360.6,427.8 361.1,431.5 361.6,433.3 362.1,433.4 362.6,432.6 363.1,431.3 363.6,429.6 364.1,427.5 364.6,425.2 365.1,422.8 365.6,420.4 366.1,418.1 366.6,416.1 367.1,414.3 367.6,413.1 368.1,412.3 368.6,411.7 369.1,411.2 369.6,410.8 370.1,410.4 370.6,410.0 371.1,409.6 371.6,409.2 372.1,408.7 372.6,408.2 373.1,407.5 373.6,406.5 374.1,405.3 374.6,403.9 375.1,402.4 375.6,400.7 376.1,399.0 376.6,397.2 377.1,395.4 377.6,393.7 378.1,392.0 378.6,390.4 379.1,388.9 379.6,387.6 380.1,386.5 380.6,385.7 381.1,385.1 381.6,384.9 382.1,385.1 382.6,385.9 383.1,387.3 383.6,389.2 384.1,391.5 384.6,394.1 385.1,397.0 385.6,400.0 386.1,403.2 386.6,406.3 387.1,409.4 387.6,412.3 388.1,415.1 388.6,417.5 389.1,419.5 389.6,421.2 390.1,422.2 390.6,422.7 391.1,422.6 391.6,422.1 392.1,421.4 392.6,420.3 393.1,419.1 393.6,417.6 394.1,415.9 394.6,414.1 395.1,412.2 395.6,410.2 396.1,408.2 396.6,406.1 397.1,404.1 397.6,402.2 398.1,400.3 398.6,398.6 399.1,397.1 399.6,395.7 400.1,394.5 400.6,393.7 401.1,393.1 401.6,392.8 402.1,393.0 402.6,393.4 403.1,394.2 403.6,395.2 404.1,396.4 404.6,397.8 405.1,399.3 405.6,400.8 406.1,402.3 406.6,403.8 407.1,405.2 407.6,406.5 408.1,407.5 408.6,408.3 409.1,408.9 409.6,409.1 410.1,409.0 410.6,408.9 411.1,408.7 411.6,408.4 412.1,408.1 412.6,407.8 413.1,407.6 413.6,407.3 414.1,407.2 414.6,407.1 415.1,407.0 415.6,407.0 416.1,407.0 416.6,406.9 417.1,406.9 417.6,406.9 418.1,406.9 418.6,406.9 419.1,406.8 419.6,406.8 420.1,406.7 420.6,406.4 421.1,406.1 421.6,405.6 422.1,405.1 422.6,404.5 423.1,403.9 423.6,403.3 424.1,402.6 424.6,402.0 425.1,401.3 425.6,400.7 426.1,400.2 426.6,399.7 427.1,399.3 427.6,399.0 428.1,398.9 428.6,398.8 429.1,398.9 429.6,399.0 430.1,399.3 430.6,399.6 431.1,400.0 431.6,400.5 432.1,401.1 432.6,401.8 433.1,402.5 433.6,403.3 434.1,404.2 434.6,405.1 435.1,406.1 435.6,407.2 436.1,408.3 436.6,409.5"/>
<path fill="none" stroke="#9a9a9a" stroke-width="2.1" stroke-linejoin="round" d="M271.6,398.2 272.1,398.2 272.6,398.2 273.1,398.1 273.6,398.1 274.1,398.1 274.6,398.0 275.1,398.0 275.6,398.0 276.1,398.0 276.6,398.0 277.1,398.0 277.6,398.0 278.1,398.0 278.6,398.0 279.1,398.0 279.6,398.0 280.1,398.0 280.6,398.0 281.1,398.0 281.6,398.1 282.1,398.1 282.6,398.2 283.1,398.3 283.6,398.5 284.1,398.6 284.6,398.7 285.1,398.9 285.6,399.0 286.1,399.2 286.6,399.3 287.1,399.4 287.6,399.6 288.1,399.7 288.6,399.9 289.1,400.1 289.6,400.3 290.1,400.5 290.6,400.7 291.1,400.9 291.6,401.1 292.1,401.3 292.6,401.5 293.1,401.6 293.6,401.6 294.1,401.6 294.6,401.6 295.1,401.4 295.6,401.2 296.1,401.0 296.6,400.7 297.1,400.3 297.6,400.0 298.1,399.6 298.6,399.2 299.1,398.7 299.6,398.3 300.1,397.9 300.6,397.5 301.1,397.1 301.6,396.7 302.1,396.4 302.6,396.1 303.1,395.8 303.6,395.4 304.1,395.1 304.6,394.8 305.1,394.5 305.6,394.2 306.1,393.9 306.6,393.5 307.1,393.2 307.6,392.9 308.1,392.6 308.6,392.2 309.1,391.9 309.6,391.6 310.1,391.2 310.6,390.8 311.1,390.5 311.6,390.1 312.1,389.7 312.6,389.3 313.1,388.9 313.6,388.6 314.1,388.2 314.6,387.8 315.1,387.4 315.6,387.0 316.1,386.6 316.6,386.3 317.1,385.9 317.6,385.6 318.1,385.2 318.6,384.9 319.1,384.5 319.6,384.0 320.1,383.6 320.6,383.2 321.1,382.9 321.6,382.5 322.1,382.2 322.6,382.0 323.1,381.8 323.6,381.7 324.1,381.8 324.6,381.9 325.1,382.1 325.6,382.4 326.1,382.8 326.6,383.2 327.1,383.7 327.6,384.2 328.1,384.7 328.6,385.2 329.1,385.7 329.6,386.2 330.1,386.7 330.6,387.1 331.1,387.7 331.6,388.2 332.1,388.8 332.6,389.3 333.1,389.9 333.6,390.4 334.1,390.9 334.6,391.4 335.1,391.8 335.6,392.2 336.1,392.5 336.6,392.9 337.1,393.2 337.6,393.6 338.1,393.9 338.6,394.2 339.1,394.4 339.6,394.6 340.1,394.8 340.6,394.8 341.1,394.6 341.6,393.6 342.1,392.1 342.6,390.1 343.1,387.8 343.6,385.3 344.1,382.9 344.6,380.5 345.1,378.1 345.6,375.3 346.1,372.2 346.6,369.0 347.1,365.8 347.6,362.8 348.1,360.2 348.6,358.2 349.1,356.6 349.6,355.1 350.1,353.8 350.6,352.6 351.1,351.5 351.6,350.5 352.1,349.7 352.6,349.0 353.1,348.4 353.6,347.9 354.1,347.6 354.6,347.7 355.1,348.1 355.6,348.7 356.1,349.3 356.6,350.0 357.1,350.9 357.6,351.9 358.1,353.0 358.6,354.3 359.1,355.7 359.6,357.2 360.1,358.9 360.6,361.2 361.1,364.0 361.6,367.0 362.1,370.3 362.6,373.4 363.1,376.4 363.6,379.1 364.1,381.4 364.6,383.8 365.1,386.3 365.6,388.7 366.1,390.9 366.6,392.7 367.1,394.1 367.6,394.8 368.1,394.8 368.6,394.7 369.1,394.6 369.6,394.3 370.1,394.1 370.6,393.8 371.1,393.4 371.6,393.1 372.1,392.7 372.6,392.4 373.1,392.1 373.6,391.7 374.1,391.2 374.6,390.7 375.1,390.2 375.6,389.6 376.1,389.1 376.6,388.5 377.1,388.0 377.6,387.5 378.1,386.9 378.6,386.5 379.1,386.0 379.6,385.5 380.1,385.0 380.6,384.5 381.1,384.0 381.6,383.5 382.1,383.1 382.6,382.6 383.1,382.3 383.6,382.0 384.1,381.8 384.6,381.7 385.1,381.8 385.6,381.9 386.1,382.1 386.6,382.3 387.1,382.7 387.6,383.0 388.1,383.4 388.6,383.8 389.1,384.2 389.6,384.6 390.1,385.0 390.6,385.4 391.1,385.7 391.6,386.1 392.1,386.4 392.6,386.8 393.1,387.2 393.6,387.6 394.1,387.9 394.6,388.3 395.1,388.7 395.6,389.1 396.1,389.5 396.6,389.9 397.1,390.3 397.6,390.6 398.1,391.0 398.6,391.3 399.1,391.7 399.6,392.0 400.1,392.4 400.6,392.7 401.1,393.0 401.6,393.3 402.1,393.7 402.6,394.0 403.1,394.3 403.6,394.6 404.1,394.9 404.6,395.3 405.1,395.6 405.6,395.9 406.1,396.2 406.6,396.5 407.1,396.9 407.6,397.2 408.1,397.6 408.6,398.1 409.1,398.5 409.6,398.9 410.1,399.3 410.6,399.7 411.1,400.1 411.6,400.5 412.1,400.8 412.6,401.1 413.1,401.3 413.6,401.5 414.1,401.6 414.6,401.7 415.1,401.6 415.6,401.5 416.1,401.4 416.6,401.3 417.1,401.1 417.6,400.9 418.1,400.6 418.6,400.4 419.1,400.2 419.6,400.0 420.1,399.8 420.6,399.7 421.1,399.5 421.6,399.4 422.1,399.2 422.6,399.1 423.1,399.0 423.6,398.8 424.1,398.7 424.6,398.5 425.1,398.4 425.6,398.3 426.1,398.2 426.6,398.1 427.1,398.0 427.6,398.0 428.1,398.0 428.6,398.0 429.1,398.0 429.6,398.0 430.1,398.0 430.6,398.0 431.1,398.0 431.6,398.0 432.1,398.0 432.6,398.0 433.1,398.0 433.6,398.0 434.1,398.0 434.6,398.1 435.1,398.1 435.6,398.1 436.1,398.2 436.6,398.2"/>
<path d="M271.6,347.6 V461.4 H436.9" fill="none" stroke="#2a2a2a" stroke-width="1.1"/>
<path d="M271.6,461.4v-4M354.2,461.4v-4M436.9,461.4v-4M271.6,461.4h4M271.6,404.5h4M271.6,347.6h4" fill="none" stroke="#2a2a2a" stroke-width="1.1"/>
<text x="280.3" y="477.7" font-size="12.62" text-anchor="end">–0.1</text>
<text x="354.2" y="477.7" font-size="12.62" text-anchor="middle">0</text>
<text x="436.9" y="477.7" font-size="12.62" text-anchor="middle">0.1</text>
<text x="267.3" y="465.8" font-size="12.62" text-anchor="end">–1</text>
<text x="267.3" y="408.9" font-size="12.62" text-anchor="end">0</text>
<text x="267.3" y="352" font-size="12.62" text-anchor="end">1</text>
<text x="326.5" y="491.3" font-size="12.62" text-anchor="start">Delay, <tspan font-family="Liberation Serif" font-size="13.5">τ</tspan> (ms)</text>
<path fill="none" stroke="#0a0a0a" stroke-width="3.6" stroke-linejoin="round" d="M489.5,407.9 490.0,407.0 490.5,406.0 491.0,405.1 491.5,404.2 492.0,403.4 492.5,402.6 493.0,401.9 493.5,401.2 494.0,400.6 494.5,400.1 495.0,399.6 495.5,399.3 496.0,399.0 496.5,398.9 497.0,398.8 497.5,398.8 498.0,399.0 498.5,399.1 499.0,399.4 499.5,399.6 500.0,400.0 500.5,400.3 501.0,400.7 501.5,401.1 502.0,401.6 502.5,402.0 503.0,402.4 503.5,402.8 504.0,403.2 504.5,403.6 505.0,404.0 505.5,404.3 506.0,404.6 506.5,404.8 507.0,404.9 507.5,405.0 508.0,405.1 508.5,405.0 509.0,404.9 509.5,404.7 510.0,404.5 510.5,404.2 511.0,403.9 511.5,403.6 512.0,403.2 512.5,402.9 513.0,402.5 513.5,402.2 514.0,401.8 514.5,401.6 515.0,401.3 515.5,401.1 516.0,400.9 516.5,400.8 517.0,400.8 517.5,400.9 518.0,401.0 518.5,401.2 519.0,401.5 519.5,401.9 520.0,402.3 520.5,402.7 521.0,403.2 521.5,403.6 522.0,404.1 522.5,404.7 523.0,405.2 523.5,405.7 524.0,406.1 524.5,406.6 525.0,407.0 525.5,407.3 526.0,407.7 526.5,407.9 527.0,408.1 527.5,408.2 528.0,408.2 528.5,408.1 529.0,408.0 529.5,407.8 530.0,407.5 530.5,407.2 531.0,406.8 531.5,406.4 532.0,405.9 532.5,405.4 533.0,404.9 533.5,404.3 534.0,403.7 534.5,403.1 535.0,402.5 535.5,401.9 536.0,401.3 536.5,400.6 537.0,400.0 537.5,399.4 538.0,398.8 538.5,398.3 539.0,397.7 539.5,397.2 540.0,396.7 540.5,396.3 541.0,395.9 541.5,395.6 542.0,395.3 542.5,395.1 543.0,394.9 543.5,394.8 544.0,394.8 544.5,395.1 545.0,395.6 545.5,396.4 546.0,397.3 546.5,398.5 547.0,399.9 547.5,401.4 548.0,403.1 548.5,404.9 549.0,406.8 549.5,408.8 550.0,410.8 550.5,413.0 551.0,415.1 551.5,417.2 552.0,419.4 552.5,421.5 553.0,423.5 553.5,425.5 554.0,427.4 554.5,429.2 555.0,430.9 555.5,432.4 556.0,433.8 556.5,435.0 557.0,436.0 557.5,436.7 558.0,437.2 558.5,437.5 559.0,437.4 559.5,436.6 560.0,435.2 560.5,433.2 561.0,430.6 561.5,427.6 562.0,424.1 562.5,420.3 563.0,416.2 563.5,411.7 564.0,407.1 564.5,402.3 565.0,397.5 565.5,392.5 566.0,387.6 566.5,382.7 567.0,378.0 567.5,373.4 568.0,369.1 568.5,365.0 569.0,361.3 569.5,358.0 570.0,355.1 570.5,352.7 571.0,350.9 571.5,349.6 572.0,349.1 572.5,349.2 573.0,350.0 573.5,351.5 574.0,353.6 574.5,356.2 575.0,359.3 575.5,362.8 576.0,366.6 576.5,370.8 577.0,375.2 577.5,379.9 578.0,384.7 578.5,389.6 579.0,394.5 579.5,399.4 580.0,404.3 580.5,409.0 581.0,413.5 581.5,417.8 582.0,421.9 582.5,425.6 583.0,428.9 583.5,431.7 584.0,434.0 584.5,435.8 585.0,437.0 585.5,437.5 586.0,437.4 586.5,437.1 587.0,436.4 587.5,435.6 588.0,434.5 588.5,433.3 589.0,431.8 589.5,430.3 590.0,428.5 590.5,426.7 591.0,424.7 591.5,422.7 592.0,420.6 592.5,418.5 593.0,416.4 593.5,414.2 594.0,412.1 594.5,410.0 595.0,408.0 595.5,406.0 596.0,404.2 596.5,402.4 597.0,400.8 597.5,399.3 598.0,398.0 598.5,396.9 599.0,396.0 599.5,395.4 600.0,395.0 600.5,394.8 601.0,394.9 601.5,395.0 602.0,395.2 602.5,395.4 603.0,395.7 603.5,396.1 604.0,396.5 604.5,396.9 605.0,397.4 605.5,397.9 606.0,398.5 606.5,399.1 607.0,399.7 607.5,400.3 608.0,400.9 608.5,401.5 609.0,402.1 609.5,402.8 610.0,403.4 610.5,404.0 611.0,404.5 611.5,405.1 612.0,405.6 612.5,406.1 613.0,406.6 613.5,407.0 614.0,407.3 614.5,407.6 615.0,407.9 615.5,408.0 616.0,408.2 616.5,408.2 617.0,408.2 617.5,408.0 618.0,407.8 618.5,407.5 619.0,407.2 619.5,406.8 620.0,406.4 620.5,405.9 621.0,405.5 621.5,405.0 622.0,404.4 622.5,403.9 623.0,403.4 623.5,403.0 624.0,402.5 624.5,402.1 625.0,401.7 625.5,401.4 626.0,401.1 626.5,400.9 627.0,400.8 627.5,400.8 628.0,400.9 628.5,401.0 629.0,401.2 629.5,401.4 630.0,401.7 630.5,402.0 631.0,402.3 631.5,402.7 632.0,403.0 632.5,403.4 633.0,403.7 633.5,404.0 634.0,404.3 634.5,404.6 635.0,404.8 635.5,404.9 636.0,405.0 636.5,405.1 637.0,405.0 637.5,404.9 638.0,404.7 638.5,404.5 639.0,404.2 639.5,403.8 640.0,403.5 640.5,403.1 641.0,402.7 641.5,402.2 642.0,401.8 642.5,401.4 643.0,401.0 643.5,400.6 644.0,400.2 644.5,399.8 645.0,399.5 645.5,399.3 646.0,399.1 646.5,398.9 647.0,398.8 647.5,398.8 648.0,398.9 648.5,399.1 649.0,399.4 649.5,399.8 650.0,400.3 650.5,400.8 651.0,401.5 651.5,402.2 652.0,402.9 652.5,403.7 653.0,404.6 653.5,405.5 654.0,406.4 654.5,407.3"/>
<path fill="none" stroke="#9a9a9a" stroke-width="2.1" stroke-linejoin="round" d="M489.5,396.8 490.0,396.9 490.5,397.0 491.0,397.0 491.5,397.1 492.0,397.2 492.5,397.3 493.0,397.4 493.5,397.6 494.0,397.7 494.5,397.8 495.0,397.9 495.5,398.1 496.0,398.2 496.5,398.4 497.0,398.5 497.5,398.7 498.0,398.8 498.5,399.0 499.0,399.2 499.5,399.4 500.0,399.7 500.5,400.0 501.0,400.3 501.5,400.6 502.0,400.9 502.5,401.2 503.0,401.5 503.5,401.8 504.0,402.1 504.5,402.4 505.0,402.6 505.5,402.8 506.0,403.0 506.5,403.2 507.0,403.3 507.5,403.3 508.0,403.4 508.5,403.3 509.0,403.3 509.5,403.2 510.0,403.0 510.5,402.9 511.0,402.7 511.5,402.5 512.0,402.3 512.5,402.1 513.0,401.9 513.5,401.6 514.0,401.4 514.5,401.2 515.0,401.0 515.5,400.9 516.0,400.7 516.5,400.6 517.0,400.5 517.5,400.4 518.0,400.4 518.5,400.3 519.0,400.2 519.5,400.2 520.0,400.1 520.5,400.1 521.0,400.0 521.5,400.0 522.0,400.0 522.5,399.9 523.0,399.9 523.5,399.8 524.0,399.8 524.5,399.8 525.0,399.7 525.5,399.7 526.0,399.6 526.5,399.6 527.0,399.5 527.5,399.4 528.0,399.3 528.5,399.3 529.0,399.2 529.5,399.1 530.0,399.0 530.5,398.9 531.0,398.8 531.5,398.6 532.0,398.5 532.5,398.4 533.0,398.2 533.5,398.1 534.0,397.9 534.5,397.8 535.0,397.6 535.5,397.5 536.0,397.3 536.5,397.2 537.0,397.0 537.5,396.8 538.0,396.6 538.5,396.4 539.0,396.2 539.5,396.0 540.0,395.8 540.5,395.6 541.0,395.3 541.5,395.0 542.0,394.8 542.5,394.5 543.0,394.1 543.5,393.7 544.0,393.3 544.5,392.8 545.0,392.3 545.5,391.7 546.0,391.1 546.5,390.5 547.0,389.8 547.5,389.1 548.0,388.4 548.5,387.6 549.0,386.8 549.5,385.8 550.0,384.8 550.5,383.8 551.0,382.8 551.5,381.7 552.0,380.6 552.5,379.5 553.0,378.4 553.5,377.3 554.0,376.2 554.5,375.1 555.0,373.9 555.5,372.7 556.0,371.5 556.5,370.3 557.0,369.1 557.5,367.9 558.0,366.7 558.5,365.6 559.0,364.4 559.5,363.4 560.0,362.4 560.5,361.3 561.0,360.3 561.5,359.2 562.0,358.2 562.5,357.2 563.0,356.2 563.5,355.3 564.0,354.5 564.5,353.7 565.0,353.0 565.5,352.4 566.0,351.8 566.5,351.3 567.0,350.8 567.5,350.3 568.0,349.9 568.5,349.4 569.0,349.0 569.5,348.6 570.0,348.3 570.5,348.0 571.0,347.8 571.5,347.7 572.0,347.6 572.5,347.6 573.0,347.7 573.5,347.9 574.0,348.1 574.5,348.4 575.0,348.8 575.5,349.2 576.0,349.6 576.5,350.0 577.0,350.5 577.5,351.0 578.0,351.5 578.5,352.0 579.0,352.6 579.5,353.2 580.0,354.0 580.5,354.8 581.0,355.7 581.5,356.6 582.0,357.6 582.5,358.6 583.0,359.6 583.5,360.7 584.0,361.7 584.5,362.8 585.0,363.8 585.5,364.9 586.0,366.0 586.5,367.2 587.0,368.4 587.5,369.6 588.0,370.8 588.5,372.0 589.0,373.2 589.5,374.4 590.0,375.5 590.5,376.6 591.0,377.7 591.5,378.8 592.0,379.9 592.5,381.0 593.0,382.1 593.5,383.2 594.0,384.2 594.5,385.2 595.0,386.2 595.5,387.1 596.0,387.9 596.5,388.7 597.0,389.4 597.5,390.1 598.0,390.7 598.5,391.4 599.0,392.0 599.5,392.5 600.0,393.0 600.5,393.5 601.0,393.9 601.5,394.3 602.0,394.6 602.5,394.9 603.0,395.2 603.5,395.4 604.0,395.7 604.5,395.9 605.0,396.1 605.5,396.3 606.0,396.5 606.5,396.7 607.0,396.9 607.5,397.1 608.0,397.2 608.5,397.4 609.0,397.5 609.5,397.7 610.0,397.9 610.5,398.0 611.0,398.1 611.5,398.3 612.0,398.4 612.5,398.6 613.0,398.7 613.5,398.8 614.0,398.9 614.5,399.0 615.0,399.1 615.5,399.2 616.0,399.3 616.5,399.4 617.0,399.5 617.5,399.5 618.0,399.6 618.5,399.6 619.0,399.7 619.5,399.7 620.0,399.8 620.5,399.8 621.0,399.9 621.5,399.9 622.0,399.9 622.5,400.0 623.0,400.0 623.5,400.1 624.0,400.1 624.5,400.2 625.0,400.2 625.5,400.3 626.0,400.3 626.5,400.4 627.0,400.5 627.5,400.5 628.0,400.6 628.5,400.8 629.0,400.9 629.5,401.1 630.0,401.3 630.5,401.5 631.0,401.7 631.5,401.9 632.0,402.2 632.5,402.4 633.0,402.6 633.5,402.8 634.0,402.9 634.5,403.1 635.0,403.2 635.5,403.3 636.0,403.3 636.5,403.4 637.0,403.3 637.5,403.2 638.0,403.1 638.5,402.9 639.0,402.7 639.5,402.5 640.0,402.3 640.5,402.0 641.0,401.7 641.5,401.4 642.0,401.1 642.5,400.8 643.0,400.4 643.5,400.1 644.0,399.9 644.5,399.6 645.0,399.3 645.5,399.1 646.0,398.9 646.5,398.7 647.0,398.6 647.5,398.4 648.0,398.3 648.5,398.2 649.0,398.0 649.5,397.9 650.0,397.8 650.5,397.6 651.0,397.5 651.5,397.4 652.0,397.3 652.5,397.2 653.0,397.1 653.5,397.0 654.0,396.9 654.5,396.9"/>
<path d="M489.5,347.6 V461.4 H654.8" fill="none" stroke="#2a2a2a" stroke-width="1.1"/>
<path d="M489.5,461.4v-4M572.1,461.4v-4M654.8,461.4v-4M489.5,461.4h4M489.5,404.5h4M489.5,347.6h4" fill="none" stroke="#2a2a2a" stroke-width="1.1"/>
<text x="498.2" y="477.7" font-size="12.62" text-anchor="end">–0.1</text>
<text x="572.1" y="477.7" font-size="12.62" text-anchor="middle">0</text>
<text x="654.8" y="477.7" font-size="12.62" text-anchor="middle">0.1</text>
<text x="485.2" y="465.8" font-size="12.62" text-anchor="end">–1</text>
<text x="485.2" y="408.9" font-size="12.62" text-anchor="end">0</text>
<text x="485.2" y="352" font-size="12.62" text-anchor="end">1</text>
<text x="544.4" y="491.3" font-size="12.62" text-anchor="start">Delay, <tspan font-family="Liberation Serif" font-size="13.5">τ</tspan> (ms)</text>
<rect x="53.5" y="505.7" width="165.3" height="113.9" fill="#5c5280"/>
<defs><clipPath id="cd1"><rect x="53.5" y="505.7" width="165.3" height="113.9"/></clipPath><pattern id="p0" patternUnits="userSpaceOnUse" width="1" height="1" patternTransform="matrix(3.3 0 1.2 2.15 0.3 0.4)"><rect width="1" height="1" fill="#55468c"/><rect x=".2" y=".15" width=".45" height=".6" fill="#293fa6"/></pattern><pattern id="p1" patternUnits="userSpaceOnUse" width="1" height="1" patternTransform="matrix(3.3 0 1.2 2.15 0.3 0.4)"><rect width="1" height="1" fill="#323aa0"/><rect x=".2" y=".15" width=".45" height=".6" fill="#0d87cc"/><rect x=".65" y=".15" width=".2" height=".6" fill="#125fbc"/></pattern><pattern id="p2" patternUnits="userSpaceOnUse" width="1" height="1" patternTransform="matrix(3.3 0 1.2 2.15 0.3 0.4)"><rect width="1" height="1" fill="#125fbc"/><rect x=".2" y=".15" width=".45" height=".6" fill="#1cb0d9"/><rect x=".65" y=".15" width=".2" height=".6" fill="#1194d2"/></pattern><pattern id="p3" patternUnits="userSpaceOnUse" width="1" height="1" patternTransform="matrix(3.3 0 1.2 2.15 0.3 0.4)"><rect width="1" height="1" fill="#0e78c6"/><rect x=".2" y=".15" width=".45" height=".6" fill="#aae1a1"/><rect x=".65" y=".15" width=".2" height=".6" fill="#1eb4da"/></pattern><pattern id="p4" patternUnits="userSpaceOnUse" width="1" height="1" patternTransform="matrix(3.3 0 1.2 2.15 0.3 0.4)"><rect width="1" height="1" fill="#0d87cc"/><rect x=".2" y=".15" width=".45" height=".6" fill="#f8d719"/><rect x=".65" y=".15" width=".2" height=".6" fill="#7ad7bd"/></pattern><pattern id="p5" patternUnits="userSpaceOnUse" width="1" height="1" patternTransform="matrix(3.3 0 1.2 2.15 0.3 0.4)"><rect width="1" height="1" fill="#1091d0"/><rect x=".2" y=".15" width=".45" height=".6" fill="#f07f14"/><rect x=".65" y=".15" width=".2" height=".6" fill="#c8e68c"/></pattern></defs>
<g clip-path="url(#cd1)">
<path fill="url(#p0)" d="M165.1,503.7 204.1,503.7 111.3,621.6 72.3,621.6 Z"/>
<path fill="url(#p1)" d="M169.6,503.7 199.6,503.7 106.8,621.6 76.8,621.6 Z"/>
<path fill="url(#p2)" d="M173.6,503.7 195.6,503.7 102.8,621.6 80.8,621.6 Z"/>
<path fill="url(#p3)" d="M178.1,503.7 164.7,520 132.5,560 101.4,600 84.8,621.6 98.8,621.6 116.2,600 148.1,560 178.7,520 191.1,503.7 Z"/>
<path fill="url(#p4)" d="M182.1,503.7 168.4,520 151.6,540 131.5,565 108.3,595 97.3,610 88.8,621.6 94.8,621.6 104.5,610 117.1,595 141.1,565 160.4,540 175,520 187.1,503.7 Z"/>
<path fill="url(#p5)" d="M165.2,528 154.2,540 136.1,562 118.6,585 108.5,600 109.1,600 122.6,585 141.3,562 157.8,540 165.8,528 Z"/>
</g>
<path d="M53.5,505.7 V619.3 H218.8" fill="none" stroke="#2a2a2a" stroke-width="1.1"/>
<path d="M53.5,619.3v-4M136.2,619.3v-4M218.8,619.3v-4M53.5,619.3h4M53.5,562.5h4M53.5,505.7h4" fill="none" stroke="#2a2a2a" stroke-width="1.1"/>
<text x="62.2" y="635.6" font-size="12.62" text-anchor="end">–0.3</text>
<text x="136.2" y="635.6" font-size="12.62" text-anchor="middle">0</text>
<text x="218.8" y="635.6" font-size="12.62" text-anchor="middle">0.3</text>
<text x="49.2" y="623.7" font-size="12.62" text-anchor="end">–10</text>
<text x="49.2" y="566.9" font-size="12.62" text-anchor="end">0</text>
<text x="49.2" y="510.1" font-size="12.62" text-anchor="end">10</text>
<text x="108.4" y="649.8" font-size="12.62" text-anchor="start">Delay, <tspan font-family="Liberation Serif" font-size="13.5">τ</tspan> (ms)</text>
<rect x="271.6" y="505.7" width="165.3" height="113.9" fill="#5c5280"/>
<path fill="#443899" d="M351.2,505.7l.4,.4 1,4.9 3.3,20.1 3,21.5 .3,3.4-.3,.3-.8-3.3-.1-1-.3-.7 0-1-.6-2.6-2.9-18.3-2.3-16.4zM354.2,505.7l2,0 1.5,8.3 2.5,17.9 2,16.5 .9,10.6 .1,2.3-.3,1.2-.3-.1-.4-.8-.6-2.5-2.7-15.2-3-21.9zM356.9,505.7l.5,0 .5,1.9 .2-1.6 .2-.3 1.6,8.2 2.3,14.2 2.4,15.7 1.3,10.7 0,2.3-.7-2.5-1-5.3-3.6-22.7-2.4-11.7zM359.9,505.7l.9,0 .3,.7 .1,1.1 .3,.2 .1,1.3 .3-.2 1,4.9 4.3,27.3 1.4,10.3 0,2.3-1.7-8.5-2.5-15.8-2.5-11.4zM362.9,505.7l2.5,0 .2,.8 1.6,10 1.4,10.7 .4,6.1-.1,1.6-.3,.7-.4-.2-.6-1.6-1.7-7.3-1.7-10.1zM366.7,505.7l.9,0 1.6,7.6 2.4,13.8 .2,2.9 0,.3-.2,.2-1-3.6-1.4-6.2-1.6-9.1zM370.1,505.7l.5,0 2,9 1.6,9.7 .4,2.9 0,1.7-1-3.6-1.4-6.5-1.3-7.4zM348.6,508.4l1.7,8.3 3,18.9 1.9,14.5 .2,2.6-.2,.4-1.6-8.8-2.7-16.7-2-14.4-.3-2.9zM347.9,533.7l.4-.1 .6,1.6 1.4,5.7 2.3,12.9 2.3,15 1.7,12.4 1,9.4 .1,4.4-.1,.4-.4,0-.3-.6-.1,.5 2.4,15.4 .2,1.9-.2,.6-3.3-16.8-3.6-22-.5-3.8 .1-1.5-.3-.5 0-1.6-.3-.7 0-1.3-.2-.7-2.8-22.3-.5-5.7zM344.9,539.3l.4,.5 1.3,5.9 4.1,22.3 2.6,16.6 .4,3.7-.1,1.3-2.4-11-2.6-14.5-2.7-16.4zM351.9,539.4l2.2,9.3 .7,4.6 .3,.7 0,1 .6,2.7 3.5,21.4 1,6.9 .4,3.8-.2-.5-.2-.1-1-4.3-3.3-17.7-3.3-20.4-.7-4.8zM355.6,542.3l2.1,9.4 2.9,16.7 2.3,15 .2,2.2-.2,.4-2-9.7-2.7-15-2.3-14.7-.3-2.6zM342.5,543l.1,0 .7,2.9 2,10.4 4,23.8 .6,4.9 0,2.4 .3,.6 0,1.6 .3,.4 0,1.6 2.4,17 1.1,11-1.5,0-.2-1.2-2.4-11.9-2.6-16.4-2-14.4-1.2-10.4-.1-4.3 .3-.6 .5,.6 .1,.5 .1-.5-2.1-13zM341.2,566.3l.7,2.3 1,4.7 3,16 3,18 1.7,12.3-.7,0-2.6-13.3-5-30.8-1-7.2zM347.9,566.3l.1,.3 .3,.2 .3,1.2 1,4.6 3.7,19.8 2.9,18.5 .6,4.7-.1,.7-.1,.1-2-9.2-3.8-20.6-1.9-12.3zM338.6,569.3l1.3,5.8 2.4,12.4 5.3,32.1-1.1,0-2.2-11.4-1.7-10.2-.5-5.4-3.2-19.1-.3-2.5zM338.6,588.4l.3,.2 .7,1.5 1.3,5.6 2,11.4 1.7,12.5-2.6,0-.1-.2-1.6-10-1.4-10.2-.6-7.7 0-2zM335.6,593.5l.7,2.2 1.3,6 2,10.6 1.1,7.3-1,0-.8-3.7-2.6-14.8-.7-4.6zM332.6,595.2l.7,2 1.3,6.2 1.7,8.9 1.1,7.3-.7,0-1.1-5.1-2.3-13-.7-4.9z"/>
<path fill="#2347ab" d="M354.4,505.7l1.6,0 2.9,17.2 2,14.8 1.7,15.2 .4,6.8-.1,1.4-.3,.3-.7-1.7-1-4.6-2.7-16.2-2.3-17.6zM360.2,505.7l.4,.2 .3,1.2 2.2,9.9 1.4,9 0,1-.3,.4-1-3.8-1.3-6.5-1.3-8zM363.1,505.7l2.2,0 .6,3.3 1.7,10.7 1,9 .1,4.6-.1,1.1-.4,.1-1-2.6-1.6-7.9-1.7-10.7zM367.2,505.7l.7,2.2 1.7,8 1.3,8 .3,3.8-.3-.6-.7-2.6-1.6-8.2-1.4-8.2zM358.9,510.8l1.3,6.2 2.7,16.5 2,14.6 0,2.7-2.3-12.7-2.7-17.7-.2-.7-.1-1.7-.3-.6 0-1.7-.3-.7 .1-1.6zM352.3,511.1l1.3,6.7 2.3,14.4 2,14.2 .3,3 0,1.8-1.3-6.4-2.3-14.3-2-14.1zM348.3,534.6l.3,.4 .3,.9 1.4,5.6 2,10.9 1.9,12.5 1.7,11.8 1.3,11.5 .3,4.8-.3,1.4-.3-.4-.8-2.4-.2-1-.2-.3-.1-1.2-.3-.1-.1-1.5-.2-.2 0-1.3-.4-.4 0-1.3-.3-.7-.1-1.3-.2-.3 0-1.4-.3-.6-.1-1.4-.2-.3-.1-1.3-.2-.7-.1-1.3-.9-5-3.5-25.9-.6-7.1zM352.9,545.1l1.3,6.1 3,16.6 2,12.8 .3,2.7-.3,.1-1.6-8-2.4-13-1.9-12.6zM346,545.7l.3-.1 .6,3 3,16.1 2.4,14.5 .3,3.1 0,1.6-1.3-6.1-2.4-12.7-2-12.1zM344.4,561.7l.2-.1 .3,.7 .8,2.3 .2,1.4 .3,.3 .1,1.2 .2,.1 .1,1.4 .3,.3 0,1.3 .3,.4 0,1.3 .3,.3 .1,1.7 .2,.3 .1,1.4 .3,.6 0,1.4 .3,.3 0,1.3 .3,.7 3.8,26.4 1,8.9 .2,4-1.1,0-.4-1.8-1.7-8.2-2-11.5-2-13.1-1.7-12.8-.7-7.6 0-2.3zM342.3,571.9l1.3,5.8 3,16.4 2,12.5 .3,2.7 0,1.8-.3-.5 .1-.7-.4-.6-.3-1.7-3.4-18.9-2-12.5zM349,572.6l.3-.1 1,4.6 3,16.2 2.3,14.7 .1,2.3-.1,.3-1.7-7.9-2.3-12.8-2-12.3zM338.7,589.6l.2-.1 .7,1.3 1.7,7.2 2,12.1 1.1,9.5-2.3,0-.2-.8-1.3-7.9-1.3-9.8-.8-7.5 0-2.6zM342.9,596.8l.6,1.2 1.2,5.9 1.9,10.6 .7,5.1-.5,0-.2-.7-1.3-6.3-2-11.5zM336.1,597.3l.2-.2 2,8.8 1.6,9.5 .6,4.2-.5,0-.1-.2-1.6-7.8-1.7-9.6z"/>
<path fill="#1069c0" d="M354.5,505.7l1.4,.1 2.7,15.5 2,14.4 1.3,11.4 .8,8.6 0,3-.1,1.3-.4-.2-.3-1-.7-2.7-2.6-15.6-2.7-19.9zM363.2,505.7l1.9,0 .8,4 1.3,8.4 1,8.5 .3,4.7-.3,1.9-.3-.2-.7-1.9-1.6-7.8-1.4-8.4zM361.2,510.4l.1,1 .3,0 .3,1.5 1,5.1 .4,2.7-.1,1.4-1.3-6.4-.7-4.3zM368.2,510.9l1.4,6.4 .6,4.3 0,1-.1-.9-.2-.1-.3-1.5-1-5.2-.4-2zM360.5,521l2.4,14.2 .5,4.8-.2,.2-2.3-14.6-.3-2.5zM353.9,521.6l.3,1.8 1.7,10.4 .7,4.8 0,2.3-2.4-14.3zM348.3,536.3l.3-.2 .3,.7 1.4,5.4 1.6,8.8 2,12.2 1.7,11.7 1.3,11.2 .4,5.5-.1,.9-.3,.4-.7-1.8-1.4-6.1-2.9-17.4-3-21.5-.6-7.4zM354.6,554.7l2.3,12.6 .7,4.2 .1,1.8-.1,.4-2.4-12.8zM347.8,555.3l.8,3.3 1.7,9.5 .6,4.3 0,1.9-2.6-14.6-.4-2.2zM344.6,563l.3,.2 .4,.9 1.4,5.9 3,17 2.9,20.5 .8,8.1 .1,4-.4,0-.2-.2-1-3.8-1.6-8.3-2-11.8-3-21.4-.8-7.1-.1-2.7zM343.9,581.3l2.7,14.3 .7,4.3 0,1.7-2.7-14.4-.7-4.3zM350.9,582.1l2.4,12.7 .6,4.2 0,2-2.3-12.6-.7-4.1zM338.9,590.8l.4,.2 .6,1.8 1.4,5.9 1.6,9.8 1.4,11.1-2.1,0-.3-1.5-1.3-7.9-1.3-10.1-.6-6.1zM337.3,602.7l1.6,8.2 .4,2.7 0,1.4-1.7-8.4zM344,603.6l.3-.2 1,4.8 1,6.1 0,1.3-1.4-6z"/>
<path fill="#0d85cc" d="M354.7,505.7l1,0 .2,.9 1.7,8.9 1.6,10.9 2.7,21.8 .6,7.8-.1,1.7-.2,.7-.6-1.7-1-4.7-2.7-16.7-2.3-18.6zM363.4,505.7l1.6,0 .9,4.8 1,6.2 1,8.1 .3,5.2 0,1-.3,.6-.3-.5-.7-2.2-1.3-6.4-1.4-8.6zM348.6,538l.3,0 .4,.8 1,4.1 3.3,18.8 2.6,19.4 .7,6.9 0,3.1-.3-.1-.4-.8-1-4.1-1.6-8.8-1.7-10-2.6-19.3-.7-7zM344.9,564.6l.4,.5 .3,1 1.3,5.9 3,17.3 2.7,19.1 .7,7 0,2.8-.4,.1-.3-.9-1-4-3.3-18.5-1.7-11.2-1.3-10.6-.6-6.1zM339.3,592.3l.6,1.4 1.7,7.5 1.7,10.5 .9,7.9-1.8,0-.5-2.3-1.3-7.9-1-7.6-.6-6.5z"/>
<path fill="#139dd4" d="M355.2,505.7l.4,.6 .3,1.2 1,4.9 3,19.6 2,17.6 .3,5.4-.1,1-.2,.4-.7-2.1-1.3-6.8-2.7-17.8-2-17.7-.2-4.6zM363.6,505.7l1.1,0 1.5,7.6 1.5,11.7 .2,3.9-.3,.8-1-3.1-1.4-7-1-6.9zM348.9,539.8l.4,.2 .3,1 1,4.2 3,17.1 2.3,17 .7,6.7 0,3.2-.4-.2-.3-1-1-4.2-3-17.1-2.3-17-.7-6.7zM345.3,566.5l.6,1.8 1,4.4 3,17.1 2.4,16.8 .6,6.7 0,3.1-.3-.1-.3-1-1-4.2-3-16.8-2.7-19.4-.5-5.9zM339.5,594.3l.4,.6 .7,2.3 1.3,6.7 1.4,8.9 .7,6.8-1.5,0-.9-4.9-1-6.3-1-8-.3-4.4z"/>
<path fill="#32bed6" d="M364.2,505.7l.4,.7 .6,2.6 1.4,7.6 .9,8.4 0,1.7-.3,.7-1-3.4-1.3-7.6-.8-7.7-.1-2zM355.6,507.8l.3,.9 1.3,6.4 2.7,17.7 1.7,14.7 .3,5.5 0,.7-.3,.4-.7-2.3-1-5.1-2.3-15.3-2-17.3-.3-4.7zM349.3,542.1l.3,.2 1,3.8 2.7,14.8 2.3,16.7 .6,6.8 0,2.5-.3-.2-1-3.8-2.6-14.8-2.4-16.7-.6-6.8zM345.6,568.6l.7,2 1,4.5 2.6,15.4 2.4,17.4 .3,3.7 0,2.7-.3-.2-.4-1-1-4.4-3-17.2-2.3-18-.2-3.5zM339.9,596.5l.7,1.8 1.3,6.6 1.4,9.2 .4,5.5-.9,0-1.2-5.9-1.7-11.9-.2-3.8z"/>
<path fill="#9bdeac" d="M364.6,508.1l.6,2.1 1,5.4 .8,6.1 .1,2.3-.2,.9-.7-2.1-1-5.4-.6-5.1zM355.7,510.4l.2-.4 1,4.1 2.7,16.9 1.6,14.4 .4,5.6 0,.7-.4,.2-.6-2.5-1-5.4-2-13.3-1.7-14.5zM349.6,544.3l.3,.2 1,4 2.4,13.1 1.9,14.2 .7,6.8 0,2.1-.3-.2-1-3.9-2.3-13.2-2-14.2-.7-6.8zM345.9,570.7l1.4,5.1 2.3,13.2 2,14.1 .7,6.6 0,2.6-.4-.4-1-3.9-2.6-15-2-14.5-.5-5.2zM340.3,598.8l.6,2 1.4,7.1 1,8 0,3.4-.4-.5-.6-2.6-1.4-7.7-.7-5.6z"/>
<path fill="#e0e664" d="M365,512.4l.2-.4 1,5.5 .3,2.9-.3,.5-1-5.4zM356,512.7l.2-.2 1,4.3 2.4,15.1 1.3,11.5 .4,5.3-.1,.7-.3,0-1.3-6.2-2-13.3-1.4-11.7zM350.1,547l.2-.1 .3,1.1 1,4.6 2.3,14.1 1.3,10.5 .4,4.1-.1,.7-.3,.1-1.6-7.5-2-12.3-1.3-10.5-.4-4.1zM346.3,573.1l1,3.5 2.3,13.1 1.7,11.8 .6,6.7 0,1.6-.3-.2-.7-2.5-2.3-12.7-2-14.3-.4-4.5zM340.6,601.8l.3,.5 .4,1.4 1,5.6 .5,5.6 0,.7-.2,.4-1.3-6.6-.7-5.5z"/>
<path fill="#f5dc22" d="M356.3,515l.3-.2 .6,2.8 1.7,10.2 1.7,13.5 .3,6-.3-.2-.7-2.9-1.7-10.2-1.6-13.7zM350.5,549.3l.4,1.1 1,4.8 2,12.3 1,8 .2,3.5-.2,.7-1.3-5.9-2-12.3-1-8-.2-3.2zM346.6,575.3l.7,2.2 .6,3.2 1.7,9.7 1.3,9.4 .7,7.6-.3,0-.7-2.6-2-11.1-1.7-11.8-.4-4.6zM341.4,607.3l.2-.2 .3,2 0,2.2z"/>
<path fill="#fac305" d="M356.7,517.7l.2-.3 .7,3 1.6,10.7 1.1,8.6 .2,4.3 0,.3-.3,.1-1-4.8-1.3-8.9-1-8.6zM350.9,552l1,4.1 1.7,10 1,8 0,3-1-4.2-1.7-10-1-8zM346.9,577.8l.4,.8 .6,2.9 2,11.9 1,7.7 .2,2.8-.2,1-1-4.3-1.6-9.8-1-7.4-.4-3.2z"/>
<path fill="#f5a20f" d="M357.2,520.5l.7,2.9 1.3,8.8 .7,5.9 0,3.3-1-4.9-1-7-.7-6zM351.6,556l1,4.9 1,6.5 .4,4.2-.1,1.4-1-4.9-1-6.5-.4-3.9zM347.6,581.4l1,4.6 1,6.1 1,8 0,1.8-.7-2.3-1.3-7.6-1-7.4z"/>
<path fill="#f08214" d="M357.9,525.5l1,5.9 .3,2.8 0,2.2-1-6.1zM348.3,586.1l1.3,7.7 0,2.4-1-5.8z"/>
<path d="M271.6,505.7 V619.3 H436.9" fill="none" stroke="#2a2a2a" stroke-width="1.1"/>
<path d="M271.6,619.3v-4M354.2,619.3v-4M436.9,619.3v-4M271.6,619.3h4M271.6,562.5h4M271.6,505.7h4" fill="none" stroke="#2a2a2a" stroke-width="1.1"/>
<text x="280.3" y="635.6" font-size="12.62" text-anchor="end">–0.3</text>
<text x="354.2" y="635.6" font-size="12.62" text-anchor="middle">0</text>
<text x="436.9" y="635.6" font-size="12.62" text-anchor="middle">0.3</text>
<text x="267.3" y="623.7" font-size="12.62" text-anchor="end">–10</text>
<text x="267.3" y="566.9" font-size="12.62" text-anchor="end">0</text>
<text x="267.3" y="510.1" font-size="12.62" text-anchor="end">10</text>
<text x="326.5" y="649.8" font-size="12.62" text-anchor="start">Delay, <tspan font-family="Liberation Serif" font-size="13.5">τ</tspan> (ms)</text>
<rect x="489.5" y="505.7" width="165.3" height="113.9" fill="#5c5280"/>
<path fill="#443899" d="M564.6,505.7l3,0 .2,3.8 .5,12.9 0,24.9 1.2,26.3 .1,29 .8,17-3,0-.4-7.3-.4-12 0-24-1.2-27.6-.1-27.3zM568.7,505.7l3.5,0 .6,15 .1,28.3 1.2,27.1 .1,28.2 .7,15.3-3.5,0-.2-4.7-.6-14 0-24.9-1.2-27.3-.1-27.3zM573.2,505.7l3,0 .3,5.1 .4,11.9 0,25 1.2,27.5 .1,27.4 .8,17-3,0-.5-9.6-.3-10.7 0-22.7-1.3-28.3 0-26.9z"/>
<path fill="#2347ab" d="M564.8,505.7l2.6,0 .4,7 .3,11 0,22.6 1.3,28.3 0,27.3 .8,17.7-2.6,0-.4-7.3-.4-11.7 0-25-1.3-27.7-.1-27.2zM568.8,505.7l3.3,0 .1,1 .5,15 .1,25.3 1.2,27.6 .1,27.7 .7,17.3-3.3,0-.3-6.4-.5-12.6 0-24.6-1.2-26.7-.1-28.3zM573.4,505.7l2.6,0 .5,8.3 .2,10 0,22.7 1.3,27.6 0,28 .8,17.3-2.6,0-.4-6-.4-12.7 0-24.9-1.3-26.7-.1-28.3z"/>
<path fill="#1069c0" d="M565,505.7l2.3,0 .4,7.7 .2,10 0,23.9 1.3,26 .1,29.3 .7,17-2.3,0-.5-11.2-.3-9.8 .1-22-1.3-27.9-.1-27.3zM568.9,505.7l3.1,0 .2,2.8 .4,13.5 .1,25.3 1.2,26.7 .1,28.6 .7,17-3.1,0-.4-8.4-.4-11.4 0-22.8-1.3-29 0-26.3zM573.6,505.7l2.3,0 .3,5.3 .3,11.7 0,25 1.3,27.6 .1,27.6 .7,16.7-2.3,0-.5-9.6-.3-11 .1-22-1.3-28.7-.1-26.6z"/>
<path fill="#0d85cc" d="M565.2,505.7l1.8,0 .5,8.2 .2,10.5 0,22.3 1.3,27.3 0,28.3 .8,17.3-1.8,0-.5-8.7-.3-11 0-22.6-1.3-29.6-.1-25.7zM569,505.7l2.9,0 .3,4.8 .3,11.9 .1,24.9 1.2,27.4 .1,27.9 .7,17-2.9,0-.4-8.3-.4-11.3 0-23.7-1.2-27.6-.1-27.3zM573.8,505.7l1.8,0 .5,9.9 .2,9.1 0,22.3 1.2,26.3 .1,29.3 .8,17-1.8,0-.6-11-.2-9.3-.1-23.7-1.2-27.3-.1-27.6z"/>
<path fill="#139dd4" d="M565.5,505.7l1.3,0 .4,8.3 .3,10.4-.1,21.6 1.3,29 .1,26.6 .7,18-1.3,0-.6-14-.2-30-1.2-27.6-.1-27.6zM569.1,505.7l2.7,0 .4,7.1 .2,10.9 0,22.6 1.3,28.3 .1,27.3 .7,17.7-2.7,0-.3-6.2-.4-12.8-.1-24.6-1.2-26.7-.1-28.3zM574.1,505.7l1.3,0 .4,8.4 .2,10.3 0,22.3 1.3,26.9 .1,28.7 .7,17.3-1.3,0-.7-13.6-.1-30-1.2-25.8-.1-29.5z"/>
<path fill="#32bed6" d="M569.2,505.7l2.4,0 .5,8 .2,10 0,23.3 1.2,26.6 .1,29 .8,17-2.4,0-.5-8.6-.3-11.7 0-22.3-1.3-29-.1-26.3z"/>
<path fill="#9bdeac" d="M569.3,505.7l2.2,0 .3,5.7 .4,11.3 0,25 1.3,27.8 0,27.4 .8,16.7-2.2,0-.6-11.3-.2-9.7 0-22-1.3-27.9 0-27.3z"/>
<path fill="#e0e664" d="M569.4,505.7l2,0 .4,8 .3,10.3-.1,22.7 1.3,27.6 .1,28 .8,17.3-2,0-.5-10.7-.3-9.3 0-23.6-1.2-27.4-.1-27.9z"/>
<path fill="#f5dc22" d="M569.6,505.7l1.7,0 .5,11.3 .1,30 1.3,26 .1,29.6 .7,17-1.7,0-.5-9.5-.3-11.1 .1-22-1.3-29-.1-26.3z"/>
<path fill="#fac305" d="M569.7,505.7l1.4,0 .4,8.3 .3,10.4 0,21.6 1.3,29.3 0,26.3 .8,18-1.4,0-.7-13.2-.1-30.1-1.2-26-.1-29.6z"/>
<path fill="#f5a20f" d="M569.9,505.7l1,0 .6,11.3 .1,30.3 1.2,25.5 .1,30.1 .8,16.7-1,0-.6-11-.2-10.3 0-21-1.3-29.3 0-26z"/>
<path fill="#f08214" d="M570.3,505.7l.3,0 .6,10.6 .1,32 1.2,23.9 .1,31.7 .7,15.7-.3,0-.5-9-.3-13.3 .1-19.3-.3-9.4-.8-14-.4-11.3 .1-20.3z"/>
<path d="M489.5,505.7 V619.3 H654.8" fill="none" stroke="#2a2a2a" stroke-width="1.1"/>
<path d="M489.5,619.3v-4M572.1,619.3v-4M654.8,619.3v-4M489.5,619.3h4M489.5,562.5h4M489.5,505.7h4" fill="none" stroke="#2a2a2a" stroke-width="1.1"/>
<text x="498.2" y="635.6" font-size="12.62" text-anchor="end">–0.3</text>
<text x="572.1" y="635.6" font-size="12.62" text-anchor="middle">0</text>
<text x="654.8" y="635.6" font-size="12.62" text-anchor="middle">0.3</text>
<text x="485.2" y="623.7" font-size="12.62" text-anchor="end">–10</text>
<text x="485.2" y="566.9" font-size="12.62" text-anchor="end">0</text>
<text x="485.2" y="510.1" font-size="12.62" text-anchor="end">10</text>
<text x="544.4" y="649.8" font-size="12.62" text-anchor="start">Delay, <tspan font-family="Liberation Serif" font-size="13.5">τ</tspan> (ms)</text>
<rect x="684" y="522.3" width="22.5" height="83.2" fill="url(#cbg)" stroke="#222" stroke-width="1"/>
<text x="679.2" y="527.9" font-size="12.62" text-anchor="end">1</text>
<text x="679.2" y="570" font-size="12.62" text-anchor="end">0.5</text>
<text x="679.2" y="610.4" font-size="12.62" text-anchor="end">0</text>
</svg></body></html>
